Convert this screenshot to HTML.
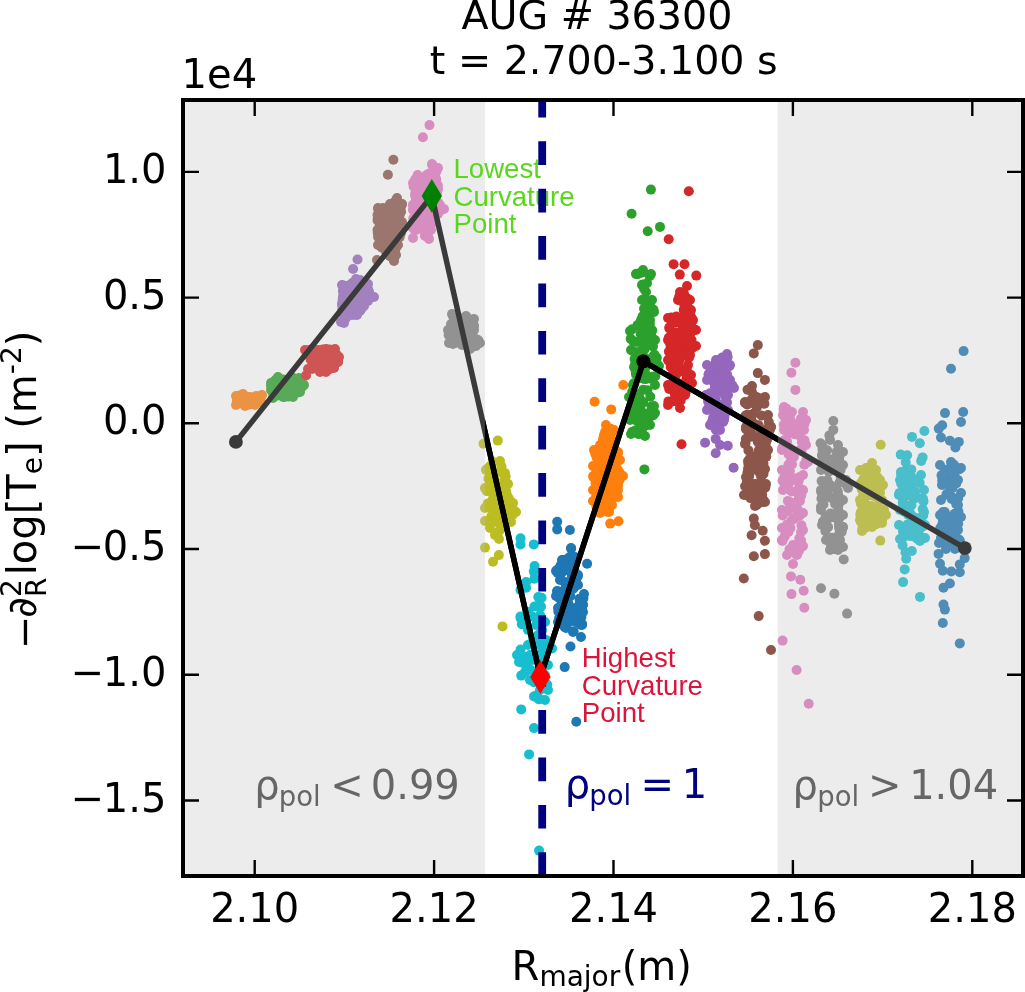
<!DOCTYPE html>
<html><head><meta charset="utf-8"><title>AUG # 36300</title>
<style>html,body{margin:0;padding:0;background:#fff;overflow:hidden}svg{display:block}</style>
</head><body>
<svg width="1025" height="992" viewBox="0 0 1025 992">
<rect x="0" y="0" width="1025" height="992" fill="#fff"/>
<g fill="#ff7f0e"><circle cx="244.4" cy="395.8" r="5.0"/><circle cx="249.9" cy="398.4" r="5.0"/><circle cx="237.5" cy="400.1" r="5.0"/><circle cx="237.0" cy="399.2" r="5.0"/><circle cx="247.0" cy="403.9" r="5.0"/><circle cx="239.2" cy="396.7" r="5.0"/><circle cx="251.0" cy="398.8" r="5.0"/><circle cx="258.3" cy="397.5" r="5.0"/><circle cx="239.8" cy="395.4" r="5.0"/><circle cx="244.0" cy="403.8" r="5.0"/><circle cx="240.7" cy="401.0" r="5.0"/><circle cx="252.6" cy="398.5" r="5.0"/><circle cx="237.5" cy="396.5" r="5.0"/><circle cx="253.7" cy="399.1" r="5.0"/><circle cx="244.2" cy="401.0" r="5.0"/><circle cx="247.8" cy="397.6" r="5.0"/><circle cx="256.7" cy="402.4" r="5.0"/><circle cx="242.3" cy="400.9" r="5.0"/><circle cx="249.7" cy="404.5" r="5.0"/><circle cx="255.0" cy="397.5" r="5.0"/><circle cx="261.5" cy="395.4" r="5.0"/><circle cx="246.9" cy="403.1" r="5.0"/><circle cx="240.0" cy="399.9" r="5.0"/><circle cx="237.0" cy="402.0" r="5.0"/><circle cx="255.9" cy="400.9" r="5.0"/><circle cx="258.8" cy="397.8" r="5.0"/><circle cx="254.1" cy="401.1" r="5.0"/><circle cx="251.1" cy="399.5" r="5.0"/><circle cx="248.3" cy="402.0" r="5.0"/><circle cx="237.6" cy="402.4" r="5.0"/><circle cx="236.0" cy="396.0" r="5.0"/><circle cx="243.0" cy="394.0" r="5.0"/><circle cx="250.0" cy="397.0" r="5.0"/><circle cx="256.0" cy="396.0" r="5.0"/><circle cx="262.0" cy="395.0" r="5.0"/><circle cx="262.0" cy="403.0" r="5.0"/><circle cx="255.0" cy="405.0" r="5.0"/><circle cx="245.0" cy="406.0" r="5.0"/><circle cx="236.0" cy="405.0" r="5.0"/></g>
<g fill="#2ca02c"><circle cx="298.1" cy="383.0" r="5.0"/><circle cx="283.7" cy="391.0" r="5.0"/><circle cx="271.7" cy="386.7" r="5.0"/><circle cx="276.5" cy="379.5" r="5.0"/><circle cx="272.9" cy="393.1" r="5.0"/><circle cx="275.3" cy="382.2" r="5.0"/><circle cx="283.9" cy="395.3" r="5.0"/><circle cx="273.7" cy="386.4" r="5.0"/><circle cx="289.1" cy="395.6" r="5.0"/><circle cx="280.2" cy="385.7" r="5.0"/><circle cx="282.8" cy="395.6" r="5.0"/><circle cx="276.8" cy="381.9" r="5.0"/><circle cx="278.7" cy="387.2" r="5.0"/><circle cx="290.4" cy="382.5" r="5.0"/><circle cx="271.1" cy="385.8" r="5.0"/><circle cx="283.2" cy="388.9" r="5.0"/><circle cx="288.0" cy="390.0" r="5.0"/><circle cx="293.3" cy="378.1" r="5.0"/><circle cx="283.9" cy="385.4" r="5.0"/><circle cx="274.4" cy="390.3" r="5.0"/><circle cx="277.9" cy="380.4" r="5.0"/><circle cx="274.3" cy="384.6" r="5.0"/><circle cx="291.3" cy="380.1" r="5.0"/><circle cx="279.3" cy="384.3" r="5.0"/><circle cx="283.0" cy="379.6" r="5.0"/><circle cx="286.4" cy="387.2" r="5.0"/><circle cx="282.3" cy="382.6" r="5.0"/><circle cx="298.4" cy="380.4" r="5.0"/><circle cx="288.4" cy="380.1" r="5.0"/><circle cx="299.5" cy="391.6" r="5.0"/><circle cx="279.6" cy="384.7" r="5.0"/><circle cx="276.5" cy="393.2" r="5.0"/><circle cx="288.6" cy="393.4" r="5.0"/><circle cx="281.9" cy="381.7" r="5.0"/><circle cx="298.0" cy="392.5" r="5.0"/><circle cx="278.5" cy="387.9" r="5.0"/><circle cx="271.9" cy="382.9" r="5.0"/><circle cx="279.6" cy="391.5" r="5.0"/><circle cx="302.6" cy="386.4" r="5.0"/><circle cx="302.5" cy="384.7" r="5.0"/><circle cx="278.3" cy="381.8" r="5.0"/><circle cx="277.5" cy="381.3" r="5.0"/><circle cx="291.6" cy="395.9" r="5.0"/><circle cx="298.7" cy="387.1" r="5.0"/><circle cx="292.5" cy="393.8" r="5.0"/><circle cx="273.8" cy="390.9" r="5.0"/><circle cx="295.8" cy="387.0" r="5.0"/><circle cx="276.9" cy="393.6" r="5.0"/><circle cx="282.0" cy="393.8" r="5.0"/><circle cx="303.1" cy="385.3" r="5.0"/><circle cx="284.2" cy="396.9" r="5.0"/><circle cx="294.9" cy="380.6" r="5.0"/><circle cx="275.2" cy="380.2" r="5.0"/><circle cx="275.8" cy="394.4" r="5.0"/><circle cx="282.6" cy="388.5" r="5.0"/><circle cx="288.4" cy="396.6" r="5.0"/><circle cx="285.3" cy="395.3" r="5.0"/><circle cx="298.3" cy="381.4" r="5.0"/><circle cx="279.3" cy="383.2" r="5.0"/><circle cx="278.9" cy="389.3" r="5.0"/><circle cx="279.6" cy="385.8" r="5.0"/><circle cx="275.3" cy="396.1" r="5.0"/><circle cx="282.7" cy="386.6" r="5.0"/><circle cx="290.3" cy="396.0" r="5.0"/><circle cx="271.0" cy="383.0" r="5.0"/><circle cx="278.0" cy="377.0" r="5.0"/><circle cx="284.0" cy="380.0" r="5.0"/><circle cx="292.0" cy="378.0" r="5.0"/><circle cx="299.0" cy="378.0" r="5.0"/><circle cx="304.0" cy="385.0" r="5.0"/><circle cx="300.0" cy="392.0" r="5.0"/><circle cx="293.0" cy="397.0" r="5.0"/><circle cx="283.0" cy="397.0" r="5.0"/><circle cx="273.0" cy="398.0" r="5.0"/><circle cx="271.0" cy="390.0" r="5.0"/></g>
<g fill="#d62728"><circle cx="319.3" cy="370.1" r="5.0"/><circle cx="322.1" cy="361.2" r="5.0"/><circle cx="322.8" cy="349.4" r="5.0"/><circle cx="320.0" cy="353.2" r="5.0"/><circle cx="329.7" cy="361.8" r="5.0"/><circle cx="316.1" cy="360.9" r="5.0"/><circle cx="323.9" cy="367.0" r="5.0"/><circle cx="313.4" cy="355.4" r="5.0"/><circle cx="331.3" cy="360.7" r="5.0"/><circle cx="324.1" cy="366.5" r="5.0"/><circle cx="336.0" cy="359.2" r="5.0"/><circle cx="325.8" cy="360.6" r="5.0"/><circle cx="322.4" cy="364.9" r="5.0"/><circle cx="320.4" cy="361.3" r="5.0"/><circle cx="321.3" cy="370.7" r="5.0"/><circle cx="328.8" cy="369.2" r="5.0"/><circle cx="337.0" cy="355.0" r="5.0"/><circle cx="324.0" cy="370.7" r="5.0"/><circle cx="333.6" cy="352.2" r="5.0"/><circle cx="327.4" cy="352.3" r="5.0"/><circle cx="318.5" cy="360.2" r="5.0"/><circle cx="310.5" cy="358.9" r="5.0"/><circle cx="322.5" cy="356.8" r="5.0"/><circle cx="311.7" cy="356.3" r="5.0"/><circle cx="329.6" cy="349.4" r="5.0"/><circle cx="323.8" cy="359.1" r="5.0"/><circle cx="326.2" cy="360.8" r="5.0"/><circle cx="308.6" cy="355.1" r="5.0"/><circle cx="314.2" cy="352.0" r="5.0"/><circle cx="319.4" cy="370.0" r="5.0"/><circle cx="332.8" cy="354.9" r="5.0"/><circle cx="324.4" cy="365.1" r="5.0"/><circle cx="308.0" cy="350.3" r="5.0"/><circle cx="328.4" cy="358.8" r="5.0"/><circle cx="326.6" cy="367.4" r="5.0"/><circle cx="320.4" cy="356.8" r="5.0"/><circle cx="323.8" cy="370.3" r="5.0"/><circle cx="314.1" cy="352.0" r="5.0"/><circle cx="322.9" cy="354.5" r="5.0"/><circle cx="308.7" cy="352.7" r="5.0"/><circle cx="315.6" cy="356.0" r="5.0"/><circle cx="330.8" cy="355.7" r="5.0"/><circle cx="322.0" cy="353.1" r="5.0"/><circle cx="313.5" cy="349.4" r="5.0"/><circle cx="329.9" cy="361.7" r="5.0"/><circle cx="311.4" cy="359.9" r="5.0"/><circle cx="332.8" cy="358.9" r="5.0"/><circle cx="321.8" cy="368.2" r="5.0"/><circle cx="318.4" cy="360.7" r="5.0"/><circle cx="316.7" cy="368.1" r="5.0"/><circle cx="329.0" cy="363.6" r="5.0"/><circle cx="318.8" cy="357.0" r="5.0"/><circle cx="306.8" cy="352.0" r="5.0"/><circle cx="313.7" cy="352.8" r="5.0"/><circle cx="334.6" cy="364.4" r="5.0"/><circle cx="314.6" cy="354.6" r="5.0"/><circle cx="315.0" cy="359.6" r="5.0"/><circle cx="338.1" cy="361.6" r="5.0"/><circle cx="315.5" cy="357.2" r="5.0"/><circle cx="321.1" cy="360.6" r="5.0"/><circle cx="311.8" cy="360.6" r="5.0"/><circle cx="315.3" cy="354.4" r="5.0"/><circle cx="324.9" cy="361.2" r="5.0"/><circle cx="330.5" cy="364.1" r="5.0"/><circle cx="329.3" cy="369.2" r="5.0"/><circle cx="318.2" cy="356.5" r="5.0"/><circle cx="329.6" cy="363.8" r="5.0"/><circle cx="335.3" cy="363.4" r="5.0"/><circle cx="330.0" cy="367.7" r="5.0"/><circle cx="305.0" cy="350.0" r="5.0"/><circle cx="312.0" cy="349.0" r="5.0"/><circle cx="318.0" cy="350.0" r="5.0"/><circle cx="326.0" cy="349.0" r="5.0"/><circle cx="335.0" cy="349.0" r="5.0"/><circle cx="339.0" cy="357.0" r="5.0"/><circle cx="338.0" cy="362.0" r="5.0"/><circle cx="334.0" cy="368.0" r="5.0"/><circle cx="326.0" cy="372.0" r="5.0"/><circle cx="320.0" cy="372.0" r="5.0"/><circle cx="312.0" cy="369.0" r="5.0"/><circle cx="311.0" cy="360.0" r="5.0"/><circle cx="306.1" cy="375.4" r="5.0"/><circle cx="308.0" cy="369.0" r="5.0"/></g>
<g fill="#9467bd"><circle cx="345.6" cy="302.0" r="5.0"/><circle cx="345.4" cy="294.9" r="5.0"/><circle cx="344.5" cy="315.8" r="5.0"/><circle cx="359.4" cy="306.6" r="5.0"/><circle cx="357.6" cy="302.5" r="5.0"/><circle cx="362.8" cy="281.9" r="5.0"/><circle cx="365.3" cy="290.1" r="5.0"/><circle cx="343.5" cy="290.7" r="5.0"/><circle cx="365.1" cy="288.0" r="5.0"/><circle cx="357.3" cy="295.8" r="5.0"/><circle cx="356.8" cy="309.1" r="5.0"/><circle cx="362.2" cy="282.4" r="5.0"/><circle cx="345.9" cy="290.2" r="5.0"/><circle cx="365.5" cy="292.4" r="5.0"/><circle cx="343.0" cy="290.8" r="5.0"/><circle cx="363.3" cy="291.8" r="5.0"/><circle cx="358.0" cy="299.4" r="5.0"/><circle cx="356.4" cy="284.2" r="5.0"/><circle cx="355.8" cy="290.8" r="5.0"/><circle cx="348.0" cy="304.6" r="5.0"/><circle cx="345.7" cy="302.1" r="5.0"/><circle cx="357.0" cy="280.1" r="5.0"/><circle cx="355.9" cy="292.3" r="5.0"/><circle cx="345.6" cy="294.1" r="5.0"/><circle cx="353.3" cy="296.3" r="5.0"/><circle cx="352.9" cy="297.8" r="5.0"/><circle cx="344.4" cy="315.7" r="5.0"/><circle cx="349.2" cy="290.7" r="5.0"/><circle cx="357.9" cy="287.4" r="5.0"/><circle cx="365.2" cy="298.8" r="5.0"/><circle cx="356.6" cy="294.1" r="5.0"/><circle cx="350.8" cy="311.5" r="5.0"/><circle cx="362.6" cy="292.2" r="5.0"/><circle cx="359.4" cy="296.4" r="5.0"/><circle cx="346.5" cy="286.1" r="5.0"/><circle cx="357.4" cy="288.7" r="5.0"/><circle cx="355.8" cy="285.1" r="5.0"/><circle cx="352.3" cy="283.0" r="5.0"/><circle cx="348.9" cy="290.4" r="5.0"/><circle cx="365.7" cy="297.2" r="5.0"/><circle cx="354.7" cy="302.1" r="5.0"/><circle cx="353.4" cy="293.9" r="5.0"/><circle cx="343.0" cy="291.2" r="5.0"/><circle cx="357.6" cy="306.7" r="5.0"/><circle cx="349.9" cy="289.9" r="5.0"/><circle cx="354.2" cy="298.6" r="5.0"/><circle cx="342.1" cy="310.2" r="5.0"/><circle cx="344.6" cy="285.8" r="5.0"/><circle cx="358.2" cy="309.0" r="5.0"/><circle cx="356.1" cy="303.3" r="5.0"/><circle cx="342.3" cy="313.4" r="5.0"/><circle cx="362.3" cy="292.4" r="5.0"/><circle cx="345.2" cy="290.1" r="5.0"/><circle cx="358.3" cy="304.6" r="5.0"/><circle cx="353.8" cy="288.8" r="5.0"/><circle cx="351.0" cy="299.3" r="5.0"/><circle cx="348.7" cy="289.9" r="5.0"/><circle cx="357.4" cy="308.7" r="5.0"/><circle cx="354.9" cy="290.3" r="5.0"/><circle cx="352.2" cy="297.5" r="5.0"/><circle cx="363.5" cy="287.7" r="5.0"/><circle cx="357.7" cy="288.0" r="5.0"/><circle cx="368.1" cy="289.2" r="5.0"/><circle cx="357.4" cy="287.2" r="5.0"/><circle cx="348.4" cy="297.3" r="5.0"/><circle cx="345.8" cy="296.3" r="5.0"/><circle cx="343.0" cy="296.3" r="5.0"/><circle cx="362.9" cy="295.7" r="5.0"/><circle cx="353.3" cy="293.6" r="5.0"/><circle cx="350.2" cy="294.5" r="5.0"/><circle cx="368.1" cy="298.0" r="5.0"/><circle cx="342.6" cy="299.8" r="5.0"/><circle cx="347.4" cy="295.0" r="5.0"/><circle cx="354.6" cy="314.7" r="5.0"/><circle cx="352.2" cy="291.0" r="5.0"/><circle cx="349.7" cy="310.5" r="5.0"/><circle cx="351.4" cy="291.1" r="5.0"/><circle cx="348.7" cy="299.9" r="5.0"/><circle cx="353.8" cy="290.0" r="5.0"/><circle cx="355.2" cy="300.7" r="5.0"/><circle cx="361.0" cy="293.4" r="5.0"/><circle cx="351.5" cy="294.9" r="5.0"/><circle cx="347.5" cy="312.1" r="5.0"/><circle cx="342.1" cy="303.3" r="5.0"/><circle cx="344.2" cy="300.9" r="5.0"/><circle cx="364.4" cy="298.7" r="5.0"/><circle cx="348.7" cy="297.3" r="5.0"/><circle cx="361.5" cy="308.7" r="5.0"/><circle cx="362.9" cy="284.3" r="5.0"/><circle cx="368.7" cy="291.9" r="5.0"/><circle cx="359.7" cy="295.4" r="5.0"/><circle cx="342.0" cy="285.0" r="5.0"/><circle cx="350.0" cy="285.0" r="5.0"/><circle cx="356.0" cy="279.0" r="5.0"/><circle cx="360.0" cy="280.0" r="5.0"/><circle cx="368.0" cy="284.0" r="5.0"/><circle cx="369.0" cy="292.0" r="5.0"/><circle cx="374.0" cy="297.0" r="5.0"/><circle cx="368.0" cy="301.0" r="5.0"/><circle cx="364.0" cy="306.0" r="5.0"/><circle cx="360.0" cy="311.0" r="5.0"/><circle cx="357.0" cy="315.0" r="5.0"/><circle cx="352.0" cy="315.0" r="5.0"/><circle cx="348.0" cy="312.0" r="5.0"/><circle cx="346.0" cy="318.0" r="5.0"/><circle cx="344.0" cy="323.0" r="5.0"/><circle cx="341.0" cy="322.0" r="5.0"/><circle cx="342.0" cy="305.0" r="5.0"/><circle cx="357.5" cy="259.5" r="5.0"/><circle cx="353.1" cy="269.0" r="5.0"/></g>
<g fill="#8c564b"><circle cx="395.6" cy="210.5" r="5.0"/><circle cx="383.6" cy="213.5" r="5.0"/><circle cx="391.7" cy="218.6" r="5.0"/><circle cx="389.9" cy="212.6" r="5.0"/><circle cx="397.3" cy="239.2" r="5.0"/><circle cx="401.8" cy="204.4" r="5.0"/><circle cx="389.1" cy="249.6" r="5.0"/><circle cx="378.5" cy="216.5" r="5.0"/><circle cx="380.4" cy="209.9" r="5.0"/><circle cx="400.3" cy="221.5" r="5.0"/><circle cx="398.7" cy="226.3" r="5.0"/><circle cx="383.9" cy="247.0" r="5.0"/><circle cx="400.7" cy="204.7" r="5.0"/><circle cx="392.1" cy="237.1" r="5.0"/><circle cx="382.8" cy="221.2" r="5.0"/><circle cx="381.0" cy="210.9" r="5.0"/><circle cx="383.7" cy="235.8" r="5.0"/><circle cx="393.5" cy="210.8" r="5.0"/><circle cx="377.8" cy="218.6" r="5.0"/><circle cx="394.1" cy="209.7" r="5.0"/><circle cx="385.1" cy="210.8" r="5.0"/><circle cx="397.0" cy="232.5" r="5.0"/><circle cx="387.2" cy="232.7" r="5.0"/><circle cx="393.2" cy="203.7" r="5.0"/><circle cx="381.5" cy="241.8" r="5.0"/><circle cx="387.5" cy="215.8" r="5.0"/><circle cx="385.2" cy="233.7" r="5.0"/><circle cx="386.3" cy="224.2" r="5.0"/><circle cx="386.4" cy="210.4" r="5.0"/><circle cx="395.3" cy="210.8" r="5.0"/><circle cx="387.9" cy="249.7" r="5.0"/><circle cx="388.8" cy="208.2" r="5.0"/><circle cx="377.9" cy="232.7" r="5.0"/><circle cx="393.2" cy="255.3" r="5.0"/><circle cx="379.7" cy="237.2" r="5.0"/><circle cx="386.6" cy="229.8" r="5.0"/><circle cx="381.1" cy="215.8" r="5.0"/><circle cx="390.3" cy="256.3" r="5.0"/><circle cx="380.2" cy="228.9" r="5.0"/><circle cx="400.2" cy="222.4" r="5.0"/><circle cx="399.7" cy="237.1" r="5.0"/><circle cx="397.7" cy="208.1" r="5.0"/><circle cx="396.8" cy="212.0" r="5.0"/><circle cx="387.4" cy="251.3" r="5.0"/><circle cx="397.8" cy="209.5" r="5.0"/><circle cx="382.8" cy="223.2" r="5.0"/><circle cx="390.2" cy="222.2" r="5.0"/><circle cx="380.5" cy="213.6" r="5.0"/><circle cx="395.3" cy="254.5" r="5.0"/><circle cx="378.5" cy="233.4" r="5.0"/><circle cx="396.1" cy="200.4" r="5.0"/><circle cx="398.0" cy="205.4" r="5.0"/><circle cx="392.2" cy="232.7" r="5.0"/><circle cx="392.9" cy="217.3" r="5.0"/><circle cx="387.8" cy="234.7" r="5.0"/><circle cx="387.9" cy="239.5" r="5.0"/><circle cx="388.4" cy="225.6" r="5.0"/><circle cx="378.1" cy="237.0" r="5.0"/><circle cx="389.5" cy="212.8" r="5.0"/><circle cx="396.2" cy="247.1" r="5.0"/><circle cx="388.7" cy="209.3" r="5.0"/><circle cx="380.6" cy="225.1" r="5.0"/><circle cx="379.7" cy="225.8" r="5.0"/><circle cx="393.1" cy="203.2" r="5.0"/><circle cx="395.5" cy="247.0" r="5.0"/><circle cx="389.8" cy="221.8" r="5.0"/><circle cx="400.8" cy="206.6" r="5.0"/><circle cx="395.4" cy="249.3" r="5.0"/><circle cx="399.9" cy="208.4" r="5.0"/><circle cx="379.1" cy="220.1" r="5.0"/><circle cx="396.0" cy="208.0" r="5.0"/><circle cx="399.5" cy="215.3" r="5.0"/><circle cx="397.5" cy="207.0" r="5.0"/><circle cx="389.8" cy="256.0" r="5.0"/><circle cx="382.6" cy="214.6" r="5.0"/><circle cx="389.9" cy="218.1" r="5.0"/><circle cx="378.4" cy="209.5" r="5.0"/><circle cx="394.2" cy="254.4" r="5.0"/><circle cx="381.6" cy="247.4" r="5.0"/><circle cx="380.3" cy="231.4" r="5.0"/><circle cx="393.1" cy="220.7" r="5.0"/><circle cx="398.9" cy="233.0" r="5.0"/><circle cx="391.7" cy="253.6" r="5.0"/><circle cx="392.9" cy="222.8" r="5.0"/><circle cx="397.0" cy="214.7" r="5.0"/><circle cx="386.3" cy="246.2" r="5.0"/><circle cx="395.7" cy="201.0" r="5.0"/><circle cx="397.6" cy="214.0" r="5.0"/><circle cx="391.9" cy="239.8" r="5.0"/><circle cx="392.6" cy="225.2" r="5.0"/><circle cx="390.1" cy="254.4" r="5.0"/><circle cx="380.7" cy="212.3" r="5.0"/><circle cx="377.6" cy="220.4" r="5.0"/><circle cx="380.1" cy="220.5" r="5.0"/><circle cx="383.0" cy="234.8" r="5.0"/><circle cx="391.9" cy="210.9" r="5.0"/><circle cx="392.8" cy="227.9" r="5.0"/><circle cx="379.8" cy="238.2" r="5.0"/><circle cx="387.3" cy="214.6" r="5.0"/><circle cx="391.3" cy="220.1" r="5.0"/><circle cx="393.3" cy="226.0" r="5.0"/><circle cx="378.6" cy="231.5" r="5.0"/><circle cx="387.4" cy="213.0" r="5.0"/><circle cx="377.8" cy="232.7" r="5.0"/><circle cx="400.6" cy="207.0" r="5.0"/><circle cx="382.4" cy="236.3" r="5.0"/><circle cx="389.9" cy="238.4" r="5.0"/><circle cx="397.4" cy="209.0" r="5.0"/><circle cx="385.1" cy="216.9" r="5.0"/><circle cx="396.7" cy="243.1" r="5.0"/><circle cx="395.8" cy="227.3" r="5.0"/><circle cx="395.7" cy="226.5" r="5.0"/><circle cx="385.7" cy="245.2" r="5.0"/><circle cx="394.5" cy="251.3" r="5.0"/><circle cx="394.9" cy="214.8" r="5.0"/><circle cx="391.1" cy="225.5" r="5.0"/><circle cx="396.8" cy="231.0" r="5.0"/><circle cx="384.0" cy="238.4" r="5.0"/><circle cx="401.1" cy="211.7" r="5.0"/><circle cx="383.9" cy="212.9" r="5.0"/><circle cx="395.8" cy="218.6" r="5.0"/><circle cx="399.1" cy="218.7" r="5.0"/><circle cx="393.0" cy="241.6" r="5.0"/><circle cx="393.8" cy="259.7" r="5.0"/><circle cx="389.0" cy="250.9" r="5.0"/><circle cx="394.6" cy="252.0" r="5.0"/><circle cx="388.2" cy="243.7" r="5.0"/><circle cx="391.5" cy="217.4" r="5.0"/><circle cx="382.7" cy="237.2" r="5.0"/><circle cx="394.5" cy="237.9" r="5.0"/><circle cx="394.6" cy="244.4" r="5.0"/><circle cx="378.0" cy="208.0" r="5.0"/><circle cx="383.0" cy="208.0" r="5.0"/><circle cx="388.0" cy="211.0" r="5.0"/><circle cx="390.0" cy="204.0" r="5.0"/><circle cx="397.0" cy="198.0" r="5.0"/><circle cx="402.0" cy="204.0" r="5.0"/><circle cx="402.0" cy="222.0" r="5.0"/><circle cx="401.0" cy="233.0" r="5.0"/><circle cx="398.0" cy="245.0" r="5.0"/><circle cx="396.0" cy="255.0" r="5.0"/><circle cx="394.0" cy="261.0" r="5.0"/><circle cx="389.0" cy="255.0" r="5.0"/><circle cx="385.0" cy="250.0" r="5.0"/><circle cx="378.0" cy="245.0" r="5.0"/><circle cx="377.5" cy="230.0" r="5.0"/><circle cx="377.5" cy="215.0" r="5.0"/><circle cx="393.4" cy="159.7" r="5.0"/><circle cx="387.9" cy="174.7" r="5.0"/><circle cx="377.0" cy="260.0" r="5.0"/></g>
<g fill="#e377c2"><circle cx="414.1" cy="208.3" r="5.0"/><circle cx="423.6" cy="225.3" r="5.0"/><circle cx="414.1" cy="229.1" r="5.0"/><circle cx="415.4" cy="179.4" r="5.0"/><circle cx="432.2" cy="185.6" r="5.0"/><circle cx="436.2" cy="179.4" r="5.0"/><circle cx="422.2" cy="195.8" r="5.0"/><circle cx="421.0" cy="217.7" r="5.0"/><circle cx="423.8" cy="188.1" r="5.0"/><circle cx="439.2" cy="210.4" r="5.0"/><circle cx="426.0" cy="222.0" r="5.0"/><circle cx="423.1" cy="216.8" r="5.0"/><circle cx="429.2" cy="180.2" r="5.0"/><circle cx="427.7" cy="223.8" r="5.0"/><circle cx="417.9" cy="201.1" r="5.0"/><circle cx="423.1" cy="226.4" r="5.0"/><circle cx="421.1" cy="180.1" r="5.0"/><circle cx="434.4" cy="201.4" r="5.0"/><circle cx="415.5" cy="211.7" r="5.0"/><circle cx="414.6" cy="223.1" r="5.0"/><circle cx="432.1" cy="190.7" r="5.0"/><circle cx="424.8" cy="193.6" r="5.0"/><circle cx="418.6" cy="183.7" r="5.0"/><circle cx="424.1" cy="230.3" r="5.0"/><circle cx="419.5" cy="198.6" r="5.0"/><circle cx="429.0" cy="220.6" r="5.0"/><circle cx="436.1" cy="212.5" r="5.0"/><circle cx="423.2" cy="188.5" r="5.0"/><circle cx="417.0" cy="227.2" r="5.0"/><circle cx="433.2" cy="219.6" r="5.0"/><circle cx="417.4" cy="196.9" r="5.0"/><circle cx="436.7" cy="207.4" r="5.0"/><circle cx="416.0" cy="198.7" r="5.0"/><circle cx="418.1" cy="186.6" r="5.0"/><circle cx="419.9" cy="188.5" r="5.0"/><circle cx="428.7" cy="176.1" r="5.0"/><circle cx="415.3" cy="192.8" r="5.0"/><circle cx="435.5" cy="196.6" r="5.0"/><circle cx="418.3" cy="211.8" r="5.0"/><circle cx="415.4" cy="179.5" r="5.0"/><circle cx="424.8" cy="223.3" r="5.0"/><circle cx="434.2" cy="201.5" r="5.0"/><circle cx="432.2" cy="198.7" r="5.0"/><circle cx="416.5" cy="209.3" r="5.0"/><circle cx="425.0" cy="219.6" r="5.0"/><circle cx="430.4" cy="220.2" r="5.0"/><circle cx="425.5" cy="181.1" r="5.0"/><circle cx="432.5" cy="198.0" r="5.0"/><circle cx="422.0" cy="211.1" r="5.0"/><circle cx="415.1" cy="195.5" r="5.0"/><circle cx="432.1" cy="182.8" r="5.0"/><circle cx="425.6" cy="198.1" r="5.0"/><circle cx="431.9" cy="194.7" r="5.0"/><circle cx="417.9" cy="213.1" r="5.0"/><circle cx="436.9" cy="193.2" r="5.0"/><circle cx="427.7" cy="237.1" r="5.0"/><circle cx="413.2" cy="204.8" r="5.0"/><circle cx="417.1" cy="222.6" r="5.0"/><circle cx="415.2" cy="207.1" r="5.0"/><circle cx="429.3" cy="217.8" r="5.0"/><circle cx="428.4" cy="211.9" r="5.0"/><circle cx="438.5" cy="203.1" r="5.0"/><circle cx="425.1" cy="235.1" r="5.0"/><circle cx="418.7" cy="215.3" r="5.0"/><circle cx="424.6" cy="221.2" r="5.0"/><circle cx="420.8" cy="194.0" r="5.0"/><circle cx="425.5" cy="216.4" r="5.0"/><circle cx="423.3" cy="183.9" r="5.0"/><circle cx="419.2" cy="219.6" r="5.0"/><circle cx="419.0" cy="224.1" r="5.0"/><circle cx="424.5" cy="179.9" r="5.0"/><circle cx="416.1" cy="222.2" r="5.0"/><circle cx="437.9" cy="211.6" r="5.0"/><circle cx="427.0" cy="206.2" r="5.0"/><circle cx="423.3" cy="211.9" r="5.0"/><circle cx="427.0" cy="186.1" r="5.0"/><circle cx="429.5" cy="173.4" r="5.0"/><circle cx="424.0" cy="183.0" r="5.0"/><circle cx="425.6" cy="177.9" r="5.0"/><circle cx="421.0" cy="182.4" r="5.0"/><circle cx="421.7" cy="200.0" r="5.0"/><circle cx="425.7" cy="211.8" r="5.0"/><circle cx="433.1" cy="191.2" r="5.0"/><circle cx="413.8" cy="226.1" r="5.0"/><circle cx="416.5" cy="226.3" r="5.0"/><circle cx="432.3" cy="165.1" r="5.0"/><circle cx="433.0" cy="182.8" r="5.0"/><circle cx="419.5" cy="222.2" r="5.0"/><circle cx="431.5" cy="222.6" r="5.0"/><circle cx="418.3" cy="216.0" r="5.0"/><circle cx="429.0" cy="219.6" r="5.0"/><circle cx="426.0" cy="230.2" r="5.0"/><circle cx="429.8" cy="183.8" r="5.0"/><circle cx="426.9" cy="174.8" r="5.0"/><circle cx="427.7" cy="201.4" r="5.0"/><circle cx="429.3" cy="228.7" r="5.0"/><circle cx="412.2" cy="227.1" r="5.0"/><circle cx="427.0" cy="206.2" r="5.0"/><circle cx="424.0" cy="195.4" r="5.0"/><circle cx="432.4" cy="211.7" r="5.0"/><circle cx="412.9" cy="209.7" r="5.0"/><circle cx="428.3" cy="200.4" r="5.0"/><circle cx="435.0" cy="210.9" r="5.0"/><circle cx="422.8" cy="228.6" r="5.0"/><circle cx="423.7" cy="199.6" r="5.0"/><circle cx="428.8" cy="221.8" r="5.0"/><circle cx="418.7" cy="196.6" r="5.0"/><circle cx="425.5" cy="205.6" r="5.0"/><circle cx="428.1" cy="184.4" r="5.0"/><circle cx="428.2" cy="237.1" r="5.0"/><circle cx="422.6" cy="187.8" r="5.0"/><circle cx="421.6" cy="208.0" r="5.0"/><circle cx="432.3" cy="222.8" r="5.0"/><circle cx="413.3" cy="218.2" r="5.0"/><circle cx="413.6" cy="186.5" r="5.0"/><circle cx="441.5" cy="209.7" r="5.0"/><circle cx="441.1" cy="209.9" r="5.0"/><circle cx="431.7" cy="211.0" r="5.0"/><circle cx="434.3" cy="208.7" r="5.0"/><circle cx="433.8" cy="179.9" r="5.0"/><circle cx="433.3" cy="198.3" r="5.0"/><circle cx="436.4" cy="171.6" r="5.0"/><circle cx="433.0" cy="191.7" r="5.0"/><circle cx="430.0" cy="183.4" r="5.0"/><circle cx="421.7" cy="195.6" r="5.0"/><circle cx="422.2" cy="196.3" r="5.0"/><circle cx="413.7" cy="206.6" r="5.0"/><circle cx="437.9" cy="207.1" r="5.0"/><circle cx="432.6" cy="179.9" r="5.0"/><circle cx="414.8" cy="229.2" r="5.0"/><circle cx="435.0" cy="182.2" r="5.0"/><circle cx="435.5" cy="178.1" r="5.0"/><circle cx="413.6" cy="222.1" r="5.0"/><circle cx="435.4" cy="170.3" r="5.0"/><circle cx="432.1" cy="217.2" r="5.0"/><circle cx="426.7" cy="233.9" r="5.0"/><circle cx="422.0" cy="218.7" r="5.0"/><circle cx="417.3" cy="228.6" r="5.0"/><circle cx="423.8" cy="207.1" r="5.0"/><circle cx="426.0" cy="214.8" r="5.0"/><circle cx="416.6" cy="223.8" r="5.0"/><circle cx="423.6" cy="212.4" r="5.0"/><circle cx="432.2" cy="195.3" r="5.0"/><circle cx="424.3" cy="223.0" r="5.0"/><circle cx="430.1" cy="185.9" r="5.0"/><circle cx="422.6" cy="209.4" r="5.0"/><circle cx="431.2" cy="187.1" r="5.0"/><circle cx="425.7" cy="230.6" r="5.0"/><circle cx="424.1" cy="215.4" r="5.0"/><circle cx="437.8" cy="185.2" r="5.0"/><circle cx="425.5" cy="208.0" r="5.0"/><circle cx="413.4" cy="226.5" r="5.0"/><circle cx="430.3" cy="184.5" r="5.0"/><circle cx="429.7" cy="223.8" r="5.0"/><circle cx="418.4" cy="220.3" r="5.0"/><circle cx="431.4" cy="214.8" r="5.0"/><circle cx="426.9" cy="179.5" r="5.0"/><circle cx="413.0" cy="183.0" r="5.0"/><circle cx="417.6" cy="175.0" r="5.0"/><circle cx="422.0" cy="181.0" r="5.0"/><circle cx="426.0" cy="176.0" r="5.0"/><circle cx="432.0" cy="164.0" r="5.0"/><circle cx="438.0" cy="168.0" r="5.0"/><circle cx="438.0" cy="189.0" r="5.0"/><circle cx="436.0" cy="197.0" r="5.0"/><circle cx="440.0" cy="205.0" r="5.0"/><circle cx="444.0" cy="209.0" r="5.0"/><circle cx="438.0" cy="214.0" r="5.0"/><circle cx="433.0" cy="220.0" r="5.0"/><circle cx="431.0" cy="230.0" r="5.0"/><circle cx="429.0" cy="239.0" r="5.0"/><circle cx="425.0" cy="236.0" r="5.0"/><circle cx="420.0" cy="226.0" r="5.0"/><circle cx="416.0" cy="230.0" r="5.0"/><circle cx="413.0" cy="238.0" r="5.0"/><circle cx="412.0" cy="225.0" r="5.0"/><circle cx="413.0" cy="205.0" r="5.0"/><circle cx="429.5" cy="125.1" r="5.0"/><circle cx="422.9" cy="137.3" r="5.0"/></g>
<g fill="#7f7f7f"><circle cx="456.2" cy="340.3" r="5.0"/><circle cx="473.3" cy="330.1" r="5.0"/><circle cx="450.8" cy="342.2" r="5.0"/><circle cx="472.7" cy="322.2" r="5.0"/><circle cx="466.5" cy="345.4" r="5.0"/><circle cx="463.3" cy="334.6" r="5.0"/><circle cx="454.1" cy="320.7" r="5.0"/><circle cx="453.8" cy="338.5" r="5.0"/><circle cx="459.6" cy="333.8" r="5.0"/><circle cx="460.9" cy="332.1" r="5.0"/><circle cx="452.8" cy="315.6" r="5.0"/><circle cx="451.4" cy="336.1" r="5.0"/><circle cx="473.2" cy="319.5" r="5.0"/><circle cx="467.1" cy="326.1" r="5.0"/><circle cx="466.1" cy="323.2" r="5.0"/><circle cx="472.9" cy="328.9" r="5.0"/><circle cx="478.3" cy="340.9" r="5.0"/><circle cx="454.4" cy="320.3" r="5.0"/><circle cx="465.8" cy="344.5" r="5.0"/><circle cx="467.1" cy="327.9" r="5.0"/><circle cx="456.2" cy="333.8" r="5.0"/><circle cx="468.5" cy="347.5" r="5.0"/><circle cx="469.4" cy="327.8" r="5.0"/><circle cx="462.3" cy="319.6" r="5.0"/><circle cx="456.2" cy="326.3" r="5.0"/><circle cx="473.2" cy="338.8" r="5.0"/><circle cx="472.2" cy="346.9" r="5.0"/><circle cx="469.7" cy="324.5" r="5.0"/><circle cx="466.9" cy="340.5" r="5.0"/><circle cx="451.4" cy="325.3" r="5.0"/><circle cx="456.2" cy="318.3" r="5.0"/><circle cx="463.4" cy="319.9" r="5.0"/><circle cx="455.6" cy="319.0" r="5.0"/><circle cx="471.0" cy="320.8" r="5.0"/><circle cx="475.7" cy="345.1" r="5.0"/><circle cx="452.5" cy="329.7" r="5.0"/><circle cx="462.5" cy="325.9" r="5.0"/><circle cx="468.1" cy="319.0" r="5.0"/><circle cx="455.1" cy="316.0" r="5.0"/><circle cx="470.8" cy="333.4" r="5.0"/><circle cx="456.5" cy="328.4" r="5.0"/><circle cx="453.0" cy="323.5" r="5.0"/><circle cx="453.4" cy="331.2" r="5.0"/><circle cx="469.4" cy="321.4" r="5.0"/><circle cx="463.3" cy="324.0" r="5.0"/><circle cx="456.2" cy="321.1" r="5.0"/><circle cx="451.1" cy="324.1" r="5.0"/><circle cx="471.2" cy="324.3" r="5.0"/><circle cx="473.8" cy="325.9" r="5.0"/><circle cx="453.9" cy="329.2" r="5.0"/><circle cx="466.3" cy="318.8" r="5.0"/><circle cx="453.8" cy="341.0" r="5.0"/><circle cx="470.8" cy="320.9" r="5.0"/><circle cx="467.5" cy="331.3" r="5.0"/><circle cx="456.8" cy="321.2" r="5.0"/><circle cx="467.6" cy="338.8" r="5.0"/><circle cx="454.5" cy="316.3" r="5.0"/><circle cx="471.4" cy="328.3" r="5.0"/><circle cx="473.9" cy="325.7" r="5.0"/><circle cx="474.9" cy="344.3" r="5.0"/><circle cx="454.0" cy="343.1" r="5.0"/><circle cx="459.7" cy="319.7" r="5.0"/><circle cx="459.9" cy="334.8" r="5.0"/><circle cx="462.3" cy="332.0" r="5.0"/><circle cx="451.9" cy="339.0" r="5.0"/><circle cx="474.1" cy="344.3" r="5.0"/><circle cx="458.3" cy="338.9" r="5.0"/><circle cx="460.2" cy="340.3" r="5.0"/><circle cx="464.4" cy="332.6" r="5.0"/><circle cx="453.8" cy="317.6" r="5.0"/><circle cx="456.0" cy="342.6" r="5.0"/><circle cx="470.4" cy="320.8" r="5.0"/><circle cx="448.6" cy="335.0" r="5.0"/><circle cx="466.4" cy="332.3" r="5.0"/><circle cx="475.8" cy="339.1" r="5.0"/><circle cx="463.8" cy="331.5" r="5.0"/><circle cx="456.9" cy="318.3" r="5.0"/><circle cx="461.0" cy="318.8" r="5.0"/><circle cx="466.9" cy="344.1" r="5.0"/><circle cx="452.7" cy="334.0" r="5.0"/><circle cx="471.9" cy="319.8" r="5.0"/><circle cx="460.4" cy="328.7" r="5.0"/><circle cx="472.9" cy="325.8" r="5.0"/><circle cx="455.7" cy="325.7" r="5.0"/><circle cx="473.7" cy="345.9" r="5.0"/><circle cx="474.1" cy="343.7" r="5.0"/><circle cx="449.7" cy="332.1" r="5.0"/><circle cx="456.0" cy="328.8" r="5.0"/><circle cx="452.0" cy="314.0" r="5.0"/><circle cx="459.0" cy="318.0" r="5.0"/><circle cx="466.0" cy="316.0" r="5.0"/><circle cx="474.0" cy="319.0" r="5.0"/><circle cx="474.0" cy="330.0" r="5.0"/><circle cx="470.0" cy="336.0" r="5.0"/><circle cx="478.0" cy="340.0" r="5.0"/><circle cx="480.0" cy="343.0" r="5.0"/><circle cx="476.0" cy="346.0" r="5.0"/><circle cx="470.0" cy="349.0" r="5.0"/><circle cx="462.0" cy="345.0" r="5.0"/><circle cx="453.0" cy="344.0" r="5.0"/><circle cx="449.0" cy="343.0" r="5.0"/><circle cx="448.0" cy="330.0" r="5.0"/></g>
<g fill="#bcbd22"><circle cx="504.6" cy="489.4" r="5.0"/><circle cx="501.5" cy="466.4" r="5.0"/><circle cx="498.4" cy="500.4" r="5.0"/><circle cx="514.0" cy="510.4" r="5.0"/><circle cx="504.9" cy="481.7" r="5.0"/><circle cx="506.0" cy="482.3" r="5.0"/><circle cx="504.3" cy="480.5" r="5.0"/><circle cx="501.1" cy="494.8" r="5.0"/><circle cx="494.5" cy="511.5" r="5.0"/><circle cx="488.7" cy="507.4" r="5.0"/><circle cx="493.3" cy="497.4" r="5.0"/><circle cx="501.5" cy="472.6" r="5.0"/><circle cx="488.8" cy="471.2" r="5.0"/><circle cx="494.1" cy="492.7" r="5.0"/><circle cx="493.9" cy="480.0" r="5.0"/><circle cx="487.7" cy="503.6" r="5.0"/><circle cx="511.0" cy="508.6" r="5.0"/><circle cx="502.7" cy="511.7" r="5.0"/><circle cx="491.2" cy="516.4" r="5.0"/><circle cx="499.3" cy="503.7" r="5.0"/><circle cx="504.0" cy="497.6" r="5.0"/><circle cx="494.6" cy="479.9" r="5.0"/><circle cx="491.9" cy="501.0" r="5.0"/><circle cx="496.9" cy="506.7" r="5.0"/><circle cx="485.4" cy="488.5" r="5.0"/><circle cx="502.3" cy="499.3" r="5.0"/><circle cx="494.2" cy="521.2" r="5.0"/><circle cx="489.9" cy="466.2" r="5.0"/><circle cx="486.9" cy="491.3" r="5.0"/><circle cx="498.6" cy="518.4" r="5.0"/><circle cx="488.4" cy="478.6" r="5.0"/><circle cx="489.8" cy="487.3" r="5.0"/><circle cx="495.9" cy="513.7" r="5.0"/><circle cx="510.5" cy="501.4" r="5.0"/><circle cx="507.9" cy="519.0" r="5.0"/><circle cx="508.6" cy="498.1" r="5.0"/><circle cx="509.3" cy="516.3" r="5.0"/><circle cx="508.7" cy="506.7" r="5.0"/><circle cx="502.7" cy="493.6" r="5.0"/><circle cx="503.8" cy="490.6" r="5.0"/><circle cx="499.0" cy="496.7" r="5.0"/><circle cx="507.4" cy="483.8" r="5.0"/><circle cx="497.1" cy="504.3" r="5.0"/><circle cx="496.9" cy="486.1" r="5.0"/><circle cx="500.5" cy="495.6" r="5.0"/><circle cx="490.7" cy="484.7" r="5.0"/><circle cx="489.5" cy="505.9" r="5.0"/><circle cx="498.2" cy="532.0" r="5.0"/><circle cx="502.5" cy="499.8" r="5.0"/><circle cx="501.0" cy="501.3" r="5.0"/><circle cx="506.2" cy="491.4" r="5.0"/><circle cx="496.1" cy="507.4" r="5.0"/><circle cx="495.9" cy="534.9" r="5.0"/><circle cx="506.0" cy="502.0" r="5.0"/><circle cx="488.1" cy="490.2" r="5.0"/><circle cx="497.4" cy="504.8" r="5.0"/><circle cx="498.6" cy="509.7" r="5.0"/><circle cx="501.4" cy="524.6" r="5.0"/><circle cx="490.3" cy="485.8" r="5.0"/><circle cx="500.9" cy="469.6" r="5.0"/><circle cx="512.7" cy="514.8" r="5.0"/><circle cx="489.8" cy="483.6" r="5.0"/><circle cx="500.9" cy="500.4" r="5.0"/><circle cx="490.8" cy="475.2" r="5.0"/><circle cx="504.5" cy="508.0" r="5.0"/><circle cx="497.8" cy="522.4" r="5.0"/><circle cx="494.5" cy="514.9" r="5.0"/><circle cx="511.1" cy="506.7" r="5.0"/><circle cx="505.7" cy="476.3" r="5.0"/><circle cx="500.4" cy="504.2" r="5.0"/><circle cx="487.0" cy="469.0" r="5.0"/><circle cx="493.0" cy="462.0" r="5.0"/><circle cx="500.0" cy="461.0" r="5.0"/><circle cx="505.0" cy="473.0" r="5.0"/><circle cx="508.0" cy="484.0" r="5.0"/><circle cx="507.0" cy="495.0" r="5.0"/><circle cx="513.0" cy="503.0" r="5.0"/><circle cx="516.0" cy="512.0" r="5.0"/><circle cx="511.0" cy="522.0" r="5.0"/><circle cx="500.0" cy="530.0" r="5.0"/><circle cx="499.0" cy="539.0" r="5.0"/><circle cx="495.0" cy="535.0" r="5.0"/><circle cx="490.0" cy="528.0" r="5.0"/><circle cx="485.0" cy="521.0" r="5.0"/><circle cx="485.0" cy="508.0" r="5.0"/><circle cx="485.0" cy="488.0" r="5.0"/><circle cx="486.0" cy="470.0" r="5.0"/><circle cx="497.8" cy="440.6" r="5.0"/><circle cx="483.5" cy="443.8" r="5.0"/><circle cx="485.0" cy="547.6" r="5.0"/><circle cx="498.9" cy="555.1" r="5.0"/><circle cx="493.0" cy="561.7" r="5.0"/><circle cx="502.5" cy="626.4" r="5.0"/></g>
<g fill="#17becf"><circle cx="520.5" cy="538.3" r="5.0"/><circle cx="520.5" cy="544.4" r="5.0"/><circle cx="533.8" cy="544.4" r="5.0"/><circle cx="534.6" cy="566.0" r="5.0"/><circle cx="533.8" cy="571.6" r="5.0"/><circle cx="534.4" cy="578.8" r="5.0"/><circle cx="526.1" cy="582.1" r="5.0"/><circle cx="520.5" cy="589.9" r="5.0"/><circle cx="526.1" cy="587.7" r="5.0"/><circle cx="538.3" cy="597.1" r="5.0"/><circle cx="541.6" cy="597.7" r="5.0"/><circle cx="534.4" cy="606.6" r="5.0"/><circle cx="541.0" cy="606.6" r="5.0"/><circle cx="520.5" cy="616.5" r="5.0"/><circle cx="532.2" cy="616.5" r="5.0"/><circle cx="537.5" cy="606.0" r="5.0"/><circle cx="520.6" cy="618.1" r="5.0"/><circle cx="521.8" cy="624.2" r="5.0"/><circle cx="552.0" cy="648.4" r="5.0"/><circle cx="520.6" cy="649.6" r="5.0"/><circle cx="524.2" cy="656.8" r="5.0"/><circle cx="523.0" cy="662.9" r="5.0"/><circle cx="526.6" cy="666.5" r="5.0"/><circle cx="521.2" cy="675.6" r="5.0"/><circle cx="533.9" cy="682.2" r="5.0"/><circle cx="547.2" cy="684.6" r="5.0"/><circle cx="536.3" cy="695.5" r="5.0"/><circle cx="538.7" cy="699.2" r="5.0"/><circle cx="521.2" cy="709.4" r="5.0"/><circle cx="534.0" cy="696.4" r="5.0"/><circle cx="539.5" cy="699.0" r="5.0"/><circle cx="534.0" cy="728.1" r="5.0"/><circle cx="529.1" cy="754.4" r="5.0"/><circle cx="539.1" cy="850.6" r="5.0"/><circle cx="528.0" cy="612.0" r="5.0"/><circle cx="536.0" cy="625.0" r="5.0"/><circle cx="542.0" cy="630.0" r="5.0"/><circle cx="546.0" cy="640.0" r="5.0"/><circle cx="540.0" cy="645.0" r="5.0"/><circle cx="533.0" cy="640.0" r="5.0"/><circle cx="544.0" cy="655.0" r="5.0"/><circle cx="538.0" cy="660.0" r="5.0"/><circle cx="548.0" cy="665.0" r="5.0"/><circle cx="531.0" cy="670.0" r="5.0"/><circle cx="545.0" cy="675.0" r="5.0"/><circle cx="537.0" cy="672.0" r="5.0"/><circle cx="548.0" cy="690.0" r="5.0"/><circle cx="528.0" cy="630.0" r="5.0"/><circle cx="530.0" cy="655.0" r="5.0"/><circle cx="540.0" cy="615.0" r="5.0"/><circle cx="545.0" cy="622.0" r="5.0"/><circle cx="538.0" cy="635.0" r="5.0"/><circle cx="546.0" cy="648.0" r="5.0"/><circle cx="542.0" cy="652.0" r="5.0"/><circle cx="528.0" cy="645.0" r="5.0"/><circle cx="532.0" cy="660.0" r="5.0"/><circle cx="517.0" cy="655.0" r="5.0"/><circle cx="525.0" cy="672.0" r="5.0"/><circle cx="530.0" cy="680.0" r="5.0"/><circle cx="540.0" cy="690.0" r="5.0"/><circle cx="545.0" cy="700.0" r="5.0"/><circle cx="536.0" cy="618.0" r="5.0"/><circle cx="543.0" cy="640.0" r="5.0"/><circle cx="519.0" cy="662.0" r="5.0"/></g>
<g fill="#1f77b4"><circle cx="563.4" cy="605.6" r="5.0"/><circle cx="572.1" cy="584.6" r="5.0"/><circle cx="570.6" cy="621.3" r="5.0"/><circle cx="573.2" cy="619.8" r="5.0"/><circle cx="577.6" cy="576.7" r="5.0"/><circle cx="576.0" cy="579.5" r="5.0"/><circle cx="560.7" cy="571.7" r="5.0"/><circle cx="572.3" cy="579.1" r="5.0"/><circle cx="568.6" cy="582.3" r="5.0"/><circle cx="568.3" cy="603.2" r="5.0"/><circle cx="582.1" cy="624.1" r="5.0"/><circle cx="564.7" cy="625.9" r="5.0"/><circle cx="569.6" cy="618.6" r="5.0"/><circle cx="562.8" cy="563.4" r="5.0"/><circle cx="566.0" cy="564.6" r="5.0"/><circle cx="571.7" cy="558.2" r="5.0"/><circle cx="570.9" cy="582.3" r="5.0"/><circle cx="559.5" cy="621.5" r="5.0"/><circle cx="565.8" cy="569.8" r="5.0"/><circle cx="561.4" cy="573.2" r="5.0"/><circle cx="574.6" cy="578.4" r="5.0"/><circle cx="560.4" cy="610.8" r="5.0"/><circle cx="558.6" cy="572.0" r="5.0"/><circle cx="568.4" cy="622.4" r="5.0"/><circle cx="565.9" cy="612.3" r="5.0"/><circle cx="570.1" cy="568.2" r="5.0"/><circle cx="568.7" cy="559.7" r="5.0"/><circle cx="581.2" cy="600.3" r="5.0"/><circle cx="566.3" cy="569.9" r="5.0"/><circle cx="573.0" cy="566.9" r="5.0"/><circle cx="570.4" cy="596.3" r="5.0"/><circle cx="563.6" cy="616.7" r="5.0"/><circle cx="566.8" cy="606.5" r="5.0"/><circle cx="571.9" cy="575.7" r="5.0"/><circle cx="561.0" cy="623.7" r="5.0"/><circle cx="565.0" cy="607.0" r="5.0"/><circle cx="559.1" cy="598.0" r="5.0"/><circle cx="566.1" cy="592.5" r="5.0"/><circle cx="564.7" cy="568.2" r="5.0"/><circle cx="559.5" cy="611.8" r="5.0"/><circle cx="581.4" cy="617.0" r="5.0"/><circle cx="580.7" cy="624.7" r="5.0"/><circle cx="559.7" cy="572.6" r="5.0"/><circle cx="574.6" cy="579.3" r="5.0"/><circle cx="567.6" cy="606.7" r="5.0"/><circle cx="576.6" cy="611.4" r="5.0"/><circle cx="560.5" cy="565.6" r="5.0"/><circle cx="564.5" cy="581.9" r="5.0"/><circle cx="579.5" cy="598.7" r="5.0"/><circle cx="568.2" cy="608.9" r="5.0"/><circle cx="579.4" cy="617.1" r="5.0"/><circle cx="579.9" cy="602.1" r="5.0"/><circle cx="557.3" cy="569.8" r="5.0"/><circle cx="559.1" cy="618.4" r="5.0"/><circle cx="575.5" cy="583.0" r="5.0"/><circle cx="576.9" cy="621.8" r="5.0"/><circle cx="582.0" cy="609.6" r="5.0"/><circle cx="576.7" cy="621.9" r="5.0"/><circle cx="573.6" cy="588.3" r="5.0"/><circle cx="568.0" cy="593.6" r="5.0"/><circle cx="575.7" cy="619.7" r="5.0"/><circle cx="563.3" cy="596.6" r="5.0"/><circle cx="583.1" cy="604.7" r="5.0"/><circle cx="571.2" cy="570.2" r="5.0"/><circle cx="567.5" cy="565.9" r="5.0"/><circle cx="564.7" cy="560.2" r="5.0"/><circle cx="575.8" cy="607.7" r="5.0"/><circle cx="562.7" cy="569.5" r="5.0"/><circle cx="570.4" cy="587.6" r="5.0"/><circle cx="564.4" cy="626.7" r="5.0"/><circle cx="560.0" cy="598.1" r="5.0"/><circle cx="565.3" cy="620.6" r="5.0"/><circle cx="571.4" cy="615.7" r="5.0"/><circle cx="560.7" cy="607.3" r="5.0"/><circle cx="572.8" cy="589.0" r="5.0"/><circle cx="577.5" cy="622.0" r="5.0"/><circle cx="559.2" cy="573.8" r="5.0"/><circle cx="566.1" cy="566.4" r="5.0"/><circle cx="557.7" cy="573.0" r="5.0"/><circle cx="561.5" cy="610.4" r="5.0"/><circle cx="568.5" cy="558.1" r="5.0"/><circle cx="565.1" cy="589.7" r="5.0"/><circle cx="566.2" cy="563.0" r="5.0"/><circle cx="558.4" cy="611.8" r="5.0"/><circle cx="583.4" cy="598.2" r="5.0"/><circle cx="559.0" cy="591.5" r="5.0"/><circle cx="568.2" cy="564.9" r="5.0"/><circle cx="571.2" cy="548.7" r="5.0"/><circle cx="581.7" cy="605.4" r="5.0"/><circle cx="573.6" cy="631.2" r="5.0"/><circle cx="574.3" cy="570.4" r="5.0"/><circle cx="562.9" cy="560.3" r="5.0"/><circle cx="561.2" cy="604.8" r="5.0"/><circle cx="571.0" cy="548.0" r="5.0"/><circle cx="571.0" cy="556.0" r="5.0"/><circle cx="562.0" cy="560.0" r="5.0"/><circle cx="556.0" cy="571.0" r="5.0"/><circle cx="560.0" cy="580.0" r="5.0"/><circle cx="566.0" cy="585.0" r="5.0"/><circle cx="557.0" cy="591.0" r="5.0"/><circle cx="556.0" cy="596.0" r="5.0"/><circle cx="558.0" cy="608.0" r="5.0"/><circle cx="558.0" cy="622.0" r="5.0"/><circle cx="566.0" cy="628.0" r="5.0"/><circle cx="573.0" cy="632.0" r="5.0"/><circle cx="581.0" cy="637.0" r="5.0"/><circle cx="582.0" cy="625.0" r="5.0"/><circle cx="583.0" cy="612.0" r="5.0"/><circle cx="584.0" cy="594.0" r="5.0"/><circle cx="578.0" cy="585.0" r="5.0"/><circle cx="578.0" cy="575.0" r="5.0"/><circle cx="572.0" cy="565.0" r="5.0"/><circle cx="575.0" cy="557.0" r="5.0"/><circle cx="557.2" cy="521.7" r="5.0"/><circle cx="557.2" cy="529.4" r="5.0"/><circle cx="569.9" cy="530.0" r="5.0"/><circle cx="587.1" cy="563.8" r="5.0"/><circle cx="570.5" cy="646.5" r="5.0"/><circle cx="564.7" cy="667.1" r="5.0"/><circle cx="576.3" cy="721.8" r="5.0"/></g>
<g fill="#ff7f0e"><circle cx="598.1" cy="494.0" r="5.0"/><circle cx="617.9" cy="490.3" r="5.0"/><circle cx="602.8" cy="441.2" r="5.0"/><circle cx="617.8" cy="453.2" r="5.0"/><circle cx="604.1" cy="473.5" r="5.0"/><circle cx="604.1" cy="498.2" r="5.0"/><circle cx="610.0" cy="480.3" r="5.0"/><circle cx="617.6" cy="487.1" r="5.0"/><circle cx="607.8" cy="469.0" r="5.0"/><circle cx="597.7" cy="451.4" r="5.0"/><circle cx="610.4" cy="432.1" r="5.0"/><circle cx="606.3" cy="510.3" r="5.0"/><circle cx="606.2" cy="441.8" r="5.0"/><circle cx="616.6" cy="462.4" r="5.0"/><circle cx="601.5" cy="483.2" r="5.0"/><circle cx="608.4" cy="462.1" r="5.0"/><circle cx="603.2" cy="463.6" r="5.0"/><circle cx="613.0" cy="497.7" r="5.0"/><circle cx="601.9" cy="464.0" r="5.0"/><circle cx="609.9" cy="455.6" r="5.0"/><circle cx="602.7" cy="465.5" r="5.0"/><circle cx="613.3" cy="478.6" r="5.0"/><circle cx="601.9" cy="475.3" r="5.0"/><circle cx="612.4" cy="451.3" r="5.0"/><circle cx="603.3" cy="502.9" r="5.0"/><circle cx="613.4" cy="464.4" r="5.0"/><circle cx="595.6" cy="483.1" r="5.0"/><circle cx="604.2" cy="476.1" r="5.0"/><circle cx="605.5" cy="471.6" r="5.0"/><circle cx="609.9" cy="459.9" r="5.0"/><circle cx="619.7" cy="473.2" r="5.0"/><circle cx="596.4" cy="500.9" r="5.0"/><circle cx="608.9" cy="447.1" r="5.0"/><circle cx="607.7" cy="473.8" r="5.0"/><circle cx="599.8" cy="475.4" r="5.0"/><circle cx="596.4" cy="470.2" r="5.0"/><circle cx="610.7" cy="432.1" r="5.0"/><circle cx="605.2" cy="431.5" r="5.0"/><circle cx="606.2" cy="501.0" r="5.0"/><circle cx="609.5" cy="487.9" r="5.0"/><circle cx="596.1" cy="498.1" r="5.0"/><circle cx="604.8" cy="440.1" r="5.0"/><circle cx="600.1" cy="457.8" r="5.0"/><circle cx="593.5" cy="477.3" r="5.0"/><circle cx="599.4" cy="451.4" r="5.0"/><circle cx="614.2" cy="462.5" r="5.0"/><circle cx="619.7" cy="479.7" r="5.0"/><circle cx="619.2" cy="474.5" r="5.0"/><circle cx="598.0" cy="490.6" r="5.0"/><circle cx="603.2" cy="492.2" r="5.0"/><circle cx="613.4" cy="497.7" r="5.0"/><circle cx="596.7" cy="457.8" r="5.0"/><circle cx="611.1" cy="433.8" r="5.0"/><circle cx="609.5" cy="495.7" r="5.0"/><circle cx="596.4" cy="506.4" r="5.0"/><circle cx="613.3" cy="447.4" r="5.0"/><circle cx="598.8" cy="464.3" r="5.0"/><circle cx="618.1" cy="476.2" r="5.0"/><circle cx="596.3" cy="495.5" r="5.0"/><circle cx="598.6" cy="473.8" r="5.0"/><circle cx="601.7" cy="485.5" r="5.0"/><circle cx="604.4" cy="437.7" r="5.0"/><circle cx="619.3" cy="472.4" r="5.0"/><circle cx="613.7" cy="496.1" r="5.0"/><circle cx="603.3" cy="438.3" r="5.0"/><circle cx="608.1" cy="501.8" r="5.0"/><circle cx="598.5" cy="497.0" r="5.0"/><circle cx="613.4" cy="459.5" r="5.0"/><circle cx="607.3" cy="438.9" r="5.0"/><circle cx="618.4" cy="459.6" r="5.0"/><circle cx="619.2" cy="478.8" r="5.0"/><circle cx="595.3" cy="454.0" r="5.0"/><circle cx="599.5" cy="503.7" r="5.0"/><circle cx="610.7" cy="428.8" r="5.0"/><circle cx="598.1" cy="456.8" r="5.0"/><circle cx="607.0" cy="475.8" r="5.0"/><circle cx="604.6" cy="456.1" r="5.0"/><circle cx="593.2" cy="476.0" r="5.0"/><circle cx="606.8" cy="511.8" r="5.0"/><circle cx="613.1" cy="449.0" r="5.0"/><circle cx="601.2" cy="469.0" r="5.0"/><circle cx="600.9" cy="475.1" r="5.0"/><circle cx="608.8" cy="509.2" r="5.0"/><circle cx="609.8" cy="492.8" r="5.0"/><circle cx="612.0" cy="480.8" r="5.0"/><circle cx="603.9" cy="449.8" r="5.0"/><circle cx="602.1" cy="492.2" r="5.0"/><circle cx="615.2" cy="469.8" r="5.0"/><circle cx="606.0" cy="425.0" r="5.0"/><circle cx="614.0" cy="430.0" r="5.0"/><circle cx="612.0" cy="440.0" r="5.0"/><circle cx="618.0" cy="452.0" r="5.0"/><circle cx="620.0" cy="460.0" r="5.0"/><circle cx="618.0" cy="470.0" r="5.0"/><circle cx="623.0" cy="476.0" r="5.0"/><circle cx="618.0" cy="485.0" r="5.0"/><circle cx="618.0" cy="497.0" r="5.0"/><circle cx="612.0" cy="505.0" r="5.0"/><circle cx="609.0" cy="512.0" r="5.0"/><circle cx="600.0" cy="513.0" r="5.0"/><circle cx="593.0" cy="501.0" r="5.0"/><circle cx="593.0" cy="490.0" r="5.0"/><circle cx="593.0" cy="466.0" r="5.0"/><circle cx="594.0" cy="450.0" r="5.0"/><circle cx="600.0" cy="445.0" r="5.0"/><circle cx="604.0" cy="435.0" r="5.0"/><circle cx="623.3" cy="385.0" r="5.0"/><circle cx="594.6" cy="401.8" r="5.0"/><circle cx="611.2" cy="409.4" r="5.0"/><circle cx="610.2" cy="523.6" r="5.0"/><circle cx="618.5" cy="521.3" r="5.0"/></g>
<g fill="#2ca02c"><circle cx="648.1" cy="328.2" r="5.0"/><circle cx="645.5" cy="337.4" r="5.0"/><circle cx="638.7" cy="434.1" r="5.0"/><circle cx="643.4" cy="331.0" r="5.0"/><circle cx="642.6" cy="344.0" r="5.0"/><circle cx="646.1" cy="320.2" r="5.0"/><circle cx="650.8" cy="361.5" r="5.0"/><circle cx="656.6" cy="366.8" r="5.0"/><circle cx="639.7" cy="398.6" r="5.0"/><circle cx="641.8" cy="414.1" r="5.0"/><circle cx="636.7" cy="273.8" r="5.0"/><circle cx="650.1" cy="306.2" r="5.0"/><circle cx="647.1" cy="413.4" r="5.0"/><circle cx="648.4" cy="302.7" r="5.0"/><circle cx="647.0" cy="283.2" r="5.0"/><circle cx="653.3" cy="415.3" r="5.0"/><circle cx="634.6" cy="359.1" r="5.0"/><circle cx="655.3" cy="376.2" r="5.0"/><circle cx="638.8" cy="394.4" r="5.0"/><circle cx="648.5" cy="337.3" r="5.0"/><circle cx="649.4" cy="326.1" r="5.0"/><circle cx="630.7" cy="338.8" r="5.0"/><circle cx="639.0" cy="352.1" r="5.0"/><circle cx="646.9" cy="312.7" r="5.0"/><circle cx="642.9" cy="272.3" r="5.0"/><circle cx="656.8" cy="363.6" r="5.0"/><circle cx="647.4" cy="390.2" r="5.0"/><circle cx="653.4" cy="340.3" r="5.0"/><circle cx="645.2" cy="367.7" r="5.0"/><circle cx="645.6" cy="379.1" r="5.0"/><circle cx="647.0" cy="324.9" r="5.0"/><circle cx="651.2" cy="312.8" r="5.0"/><circle cx="650.3" cy="396.7" r="5.0"/><circle cx="642.6" cy="316.2" r="5.0"/><circle cx="644.7" cy="426.2" r="5.0"/><circle cx="643.3" cy="378.8" r="5.0"/><circle cx="652.2" cy="330.2" r="5.0"/><circle cx="645.7" cy="300.2" r="5.0"/><circle cx="652.3" cy="310.3" r="5.0"/><circle cx="648.1" cy="327.1" r="5.0"/><circle cx="653.0" cy="346.4" r="5.0"/><circle cx="638.7" cy="420.0" r="5.0"/><circle cx="632.2" cy="391.7" r="5.0"/><circle cx="641.1" cy="413.4" r="5.0"/><circle cx="641.3" cy="422.6" r="5.0"/><circle cx="636.9" cy="342.0" r="5.0"/><circle cx="651.8" cy="376.7" r="5.0"/><circle cx="635.5" cy="364.5" r="5.0"/><circle cx="633.7" cy="413.3" r="5.0"/><circle cx="651.5" cy="406.6" r="5.0"/><circle cx="637.5" cy="325.0" r="5.0"/><circle cx="643.6" cy="417.9" r="5.0"/><circle cx="633.8" cy="383.3" r="5.0"/><circle cx="646.9" cy="345.2" r="5.0"/><circle cx="646.4" cy="416.6" r="5.0"/><circle cx="635.3" cy="416.7" r="5.0"/><circle cx="639.8" cy="399.4" r="5.0"/><circle cx="637.9" cy="274.1" r="5.0"/><circle cx="632.3" cy="431.7" r="5.0"/><circle cx="633.5" cy="392.2" r="5.0"/><circle cx="639.2" cy="422.5" r="5.0"/><circle cx="650.5" cy="416.4" r="5.0"/><circle cx="636.0" cy="401.5" r="5.0"/><circle cx="649.7" cy="276.3" r="5.0"/><circle cx="644.1" cy="308.5" r="5.0"/><circle cx="638.5" cy="415.8" r="5.0"/><circle cx="632.6" cy="350.9" r="5.0"/><circle cx="633.1" cy="341.1" r="5.0"/><circle cx="634.4" cy="383.8" r="5.0"/><circle cx="633.4" cy="392.5" r="5.0"/><circle cx="644.0" cy="288.7" r="5.0"/><circle cx="639.6" cy="352.4" r="5.0"/><circle cx="635.5" cy="430.6" r="5.0"/><circle cx="641.2" cy="362.4" r="5.0"/><circle cx="649.6" cy="378.4" r="5.0"/><circle cx="645.3" cy="361.1" r="5.0"/><circle cx="641.0" cy="322.8" r="5.0"/><circle cx="641.6" cy="431.5" r="5.0"/><circle cx="640.6" cy="334.0" r="5.0"/><circle cx="647.2" cy="423.8" r="5.0"/><circle cx="636.6" cy="371.4" r="5.0"/><circle cx="649.8" cy="323.8" r="5.0"/><circle cx="648.4" cy="361.1" r="5.0"/><circle cx="638.5" cy="431.3" r="5.0"/><circle cx="654.6" cy="354.7" r="5.0"/><circle cx="636.0" cy="374.5" r="5.0"/><circle cx="651.3" cy="332.9" r="5.0"/><circle cx="650.4" cy="335.3" r="5.0"/><circle cx="644.8" cy="371.7" r="5.0"/><circle cx="649.3" cy="323.5" r="5.0"/><circle cx="647.9" cy="360.1" r="5.0"/><circle cx="635.7" cy="371.7" r="5.0"/><circle cx="636.9" cy="420.9" r="5.0"/><circle cx="643.2" cy="389.8" r="5.0"/><circle cx="644.7" cy="349.1" r="5.0"/><circle cx="656.8" cy="357.8" r="5.0"/><circle cx="644.7" cy="357.6" r="5.0"/><circle cx="653.4" cy="309.6" r="5.0"/><circle cx="634.2" cy="406.4" r="5.0"/><circle cx="642.8" cy="376.3" r="5.0"/><circle cx="640.4" cy="408.1" r="5.0"/><circle cx="632.1" cy="329.2" r="5.0"/><circle cx="653.1" cy="356.5" r="5.0"/><circle cx="642.6" cy="284.6" r="5.0"/><circle cx="649.9" cy="344.6" r="5.0"/><circle cx="643.4" cy="402.5" r="5.0"/><circle cx="649.4" cy="330.9" r="5.0"/><circle cx="644.6" cy="309.4" r="5.0"/><circle cx="640.1" cy="326.5" r="5.0"/><circle cx="640.4" cy="272.9" r="5.0"/><circle cx="635.0" cy="364.7" r="5.0"/><circle cx="636.0" cy="274.0" r="5.0"/><circle cx="643.0" cy="270.0" r="5.0"/><circle cx="651.0" cy="274.0" r="5.0"/><circle cx="646.0" cy="292.0" r="5.0"/><circle cx="652.0" cy="300.0" r="5.0"/><circle cx="654.0" cy="312.0" r="5.0"/><circle cx="650.0" cy="320.0" r="5.0"/><circle cx="655.0" cy="340.0" r="5.0"/><circle cx="659.0" cy="366.0" r="5.0"/><circle cx="655.0" cy="385.0" r="5.0"/><circle cx="654.0" cy="406.0" r="5.0"/><circle cx="655.0" cy="413.0" r="5.0"/><circle cx="650.0" cy="425.0" r="5.0"/><circle cx="645.0" cy="436.0" r="5.0"/><circle cx="631.0" cy="434.0" r="5.0"/><circle cx="630.0" cy="420.0" r="5.0"/><circle cx="629.0" cy="397.0" r="5.0"/><circle cx="633.0" cy="385.0" r="5.0"/><circle cx="634.0" cy="367.0" r="5.0"/><circle cx="631.0" cy="350.0" r="5.0"/><circle cx="630.0" cy="331.0" r="5.0"/><circle cx="641.0" cy="320.0" r="5.0"/><circle cx="642.0" cy="300.0" r="5.0"/><circle cx="642.0" cy="285.0" r="5.0"/><circle cx="650.9" cy="189.6" r="5.0"/><circle cx="631.6" cy="213.7" r="5.0"/><circle cx="647.7" cy="231.3" r="5.0"/><circle cx="660.0" cy="226.9" r="5.0"/><circle cx="644.4" cy="469.4" r="5.0"/></g>
<g fill="#d62728"><circle cx="688.1" cy="323.9" r="5.0"/><circle cx="677.1" cy="320.1" r="5.0"/><circle cx="685.8" cy="391.6" r="5.0"/><circle cx="673.6" cy="341.1" r="5.0"/><circle cx="680.4" cy="334.6" r="5.0"/><circle cx="688.0" cy="326.2" r="5.0"/><circle cx="679.4" cy="367.2" r="5.0"/><circle cx="690.7" cy="332.9" r="5.0"/><circle cx="678.8" cy="359.1" r="5.0"/><circle cx="678.4" cy="369.2" r="5.0"/><circle cx="689.2" cy="336.0" r="5.0"/><circle cx="682.7" cy="349.6" r="5.0"/><circle cx="668.7" cy="360.8" r="5.0"/><circle cx="681.0" cy="345.6" r="5.0"/><circle cx="691.5" cy="340.1" r="5.0"/><circle cx="681.3" cy="395.3" r="5.0"/><circle cx="680.3" cy="349.0" r="5.0"/><circle cx="682.3" cy="387.7" r="5.0"/><circle cx="686.8" cy="377.9" r="5.0"/><circle cx="679.2" cy="296.7" r="5.0"/><circle cx="687.0" cy="356.2" r="5.0"/><circle cx="689.5" cy="381.3" r="5.0"/><circle cx="671.3" cy="317.6" r="5.0"/><circle cx="670.2" cy="386.8" r="5.0"/><circle cx="689.1" cy="357.5" r="5.0"/><circle cx="687.9" cy="348.0" r="5.0"/><circle cx="679.7" cy="359.7" r="5.0"/><circle cx="677.4" cy="352.1" r="5.0"/><circle cx="675.7" cy="322.4" r="5.0"/><circle cx="676.8" cy="321.6" r="5.0"/><circle cx="682.3" cy="340.7" r="5.0"/><circle cx="669.4" cy="327.3" r="5.0"/><circle cx="692.0" cy="321.8" r="5.0"/><circle cx="683.0" cy="335.4" r="5.0"/><circle cx="681.0" cy="348.7" r="5.0"/><circle cx="684.3" cy="334.4" r="5.0"/><circle cx="690.4" cy="315.2" r="5.0"/><circle cx="669.4" cy="328.5" r="5.0"/><circle cx="682.9" cy="339.4" r="5.0"/><circle cx="683.8" cy="329.5" r="5.0"/><circle cx="675.7" cy="384.3" r="5.0"/><circle cx="676.2" cy="374.4" r="5.0"/><circle cx="680.7" cy="400.4" r="5.0"/><circle cx="680.5" cy="393.9" r="5.0"/><circle cx="669.6" cy="342.3" r="5.0"/><circle cx="685.9" cy="297.7" r="5.0"/><circle cx="684.7" cy="312.9" r="5.0"/><circle cx="690.4" cy="349.8" r="5.0"/><circle cx="686.9" cy="370.3" r="5.0"/><circle cx="676.3" cy="316.5" r="5.0"/><circle cx="679.6" cy="368.4" r="5.0"/><circle cx="675.2" cy="397.1" r="5.0"/><circle cx="687.2" cy="310.0" r="5.0"/><circle cx="669.2" cy="389.0" r="5.0"/><circle cx="676.2" cy="319.0" r="5.0"/><circle cx="684.3" cy="329.0" r="5.0"/><circle cx="683.7" cy="309.9" r="5.0"/><circle cx="693.5" cy="329.6" r="5.0"/><circle cx="678.6" cy="366.3" r="5.0"/><circle cx="674.3" cy="355.3" r="5.0"/><circle cx="670.6" cy="345.9" r="5.0"/><circle cx="688.4" cy="341.9" r="5.0"/><circle cx="687.0" cy="305.3" r="5.0"/><circle cx="676.1" cy="332.4" r="5.0"/><circle cx="689.0" cy="349.6" r="5.0"/><circle cx="681.6" cy="392.2" r="5.0"/><circle cx="684.7" cy="354.7" r="5.0"/><circle cx="675.6" cy="395.6" r="5.0"/><circle cx="691.7" cy="318.4" r="5.0"/><circle cx="677.6" cy="401.6" r="5.0"/><circle cx="686.4" cy="297.8" r="5.0"/><circle cx="677.3" cy="344.2" r="5.0"/><circle cx="674.9" cy="378.1" r="5.0"/><circle cx="673.0" cy="383.4" r="5.0"/><circle cx="683.7" cy="303.1" r="5.0"/><circle cx="683.4" cy="383.4" r="5.0"/><circle cx="684.7" cy="345.5" r="5.0"/><circle cx="668.9" cy="351.6" r="5.0"/><circle cx="670.7" cy="367.0" r="5.0"/><circle cx="671.7" cy="359.0" r="5.0"/><circle cx="677.9" cy="335.5" r="5.0"/><circle cx="686.6" cy="311.0" r="5.0"/><circle cx="672.8" cy="401.2" r="5.0"/><circle cx="677.3" cy="389.7" r="5.0"/><circle cx="692.5" cy="347.7" r="5.0"/><circle cx="681.9" cy="354.2" r="5.0"/><circle cx="671.3" cy="346.3" r="5.0"/><circle cx="672.6" cy="354.1" r="5.0"/><circle cx="682.2" cy="334.6" r="5.0"/><circle cx="673.5" cy="338.8" r="5.0"/><circle cx="674.7" cy="393.1" r="5.0"/><circle cx="682.1" cy="395.3" r="5.0"/><circle cx="668.4" cy="401.4" r="5.0"/><circle cx="681.7" cy="383.8" r="5.0"/><circle cx="684.0" cy="371.9" r="5.0"/><circle cx="674.4" cy="379.0" r="5.0"/><circle cx="672.3" cy="322.6" r="5.0"/><circle cx="668.9" cy="337.6" r="5.0"/><circle cx="682.5" cy="325.9" r="5.0"/><circle cx="684.2" cy="319.1" r="5.0"/><circle cx="684.7" cy="382.9" r="5.0"/><circle cx="687.9" cy="299.2" r="5.0"/><circle cx="674.9" cy="361.5" r="5.0"/><circle cx="685.3" cy="372.3" r="5.0"/><circle cx="690.8" cy="331.7" r="5.0"/><circle cx="690.7" cy="345.6" r="5.0"/><circle cx="680.0" cy="292.0" r="5.0"/><circle cx="684.0" cy="294.0" r="5.0"/><circle cx="690.0" cy="300.0" r="5.0"/><circle cx="691.0" cy="310.0" r="5.0"/><circle cx="693.0" cy="320.0" r="5.0"/><circle cx="696.0" cy="330.0" r="5.0"/><circle cx="696.0" cy="346.0" r="5.0"/><circle cx="690.0" cy="355.0" r="5.0"/><circle cx="688.0" cy="365.0" r="5.0"/><circle cx="691.0" cy="375.0" r="5.0"/><circle cx="692.0" cy="383.0" r="5.0"/><circle cx="685.0" cy="395.0" r="5.0"/><circle cx="680.0" cy="408.0" r="5.0"/><circle cx="668.0" cy="405.0" r="5.0"/><circle cx="668.0" cy="385.0" r="5.0"/><circle cx="672.0" cy="375.0" r="5.0"/><circle cx="668.0" cy="360.0" r="5.0"/><circle cx="668.0" cy="340.0" r="5.0"/><circle cx="668.0" cy="318.0" r="5.0"/><circle cx="678.0" cy="300.0" r="5.0"/><circle cx="688.8" cy="191.3" r="5.0"/><circle cx="668.7" cy="239.3" r="5.0"/><circle cx="673.6" cy="264.3" r="5.0"/><circle cx="684.5" cy="264.3" r="5.0"/><circle cx="679.8" cy="274.6" r="5.0"/><circle cx="696.3" cy="275.6" r="5.0"/><circle cx="687.0" cy="286.0" r="5.0"/><circle cx="681.5" cy="444.3" r="5.0"/></g>
<g fill="#9467bd"><circle cx="732.3" cy="385.3" r="5.0"/><circle cx="717.4" cy="360.7" r="5.0"/><circle cx="712.9" cy="409.8" r="5.0"/><circle cx="725.0" cy="365.5" r="5.0"/><circle cx="715.6" cy="364.7" r="5.0"/><circle cx="711.5" cy="370.7" r="5.0"/><circle cx="715.3" cy="428.2" r="5.0"/><circle cx="719.4" cy="391.8" r="5.0"/><circle cx="727.0" cy="402.4" r="5.0"/><circle cx="711.6" cy="401.5" r="5.0"/><circle cx="708.6" cy="408.5" r="5.0"/><circle cx="715.8" cy="366.3" r="5.0"/><circle cx="726.9" cy="364.3" r="5.0"/><circle cx="722.5" cy="387.1" r="5.0"/><circle cx="713.1" cy="417.7" r="5.0"/><circle cx="712.5" cy="369.0" r="5.0"/><circle cx="718.8" cy="372.0" r="5.0"/><circle cx="719.8" cy="423.0" r="5.0"/><circle cx="725.2" cy="408.0" r="5.0"/><circle cx="717.0" cy="413.6" r="5.0"/><circle cx="717.4" cy="360.6" r="5.0"/><circle cx="724.3" cy="417.6" r="5.0"/><circle cx="715.5" cy="399.2" r="5.0"/><circle cx="728.7" cy="385.8" r="5.0"/><circle cx="722.9" cy="388.8" r="5.0"/><circle cx="715.4" cy="370.2" r="5.0"/><circle cx="715.9" cy="418.2" r="5.0"/><circle cx="723.3" cy="376.2" r="5.0"/><circle cx="708.5" cy="374.6" r="5.0"/><circle cx="725.6" cy="387.6" r="5.0"/><circle cx="724.5" cy="415.3" r="5.0"/><circle cx="709.4" cy="405.9" r="5.0"/><circle cx="711.2" cy="374.6" r="5.0"/><circle cx="712.3" cy="421.6" r="5.0"/><circle cx="723.1" cy="421.9" r="5.0"/><circle cx="717.0" cy="392.0" r="5.0"/><circle cx="729.3" cy="366.3" r="5.0"/><circle cx="718.7" cy="415.5" r="5.0"/><circle cx="713.0" cy="380.8" r="5.0"/><circle cx="708.8" cy="396.0" r="5.0"/><circle cx="716.5" cy="424.6" r="5.0"/><circle cx="708.1" cy="401.4" r="5.0"/><circle cx="718.4" cy="426.8" r="5.0"/><circle cx="716.1" cy="404.2" r="5.0"/><circle cx="723.7" cy="382.6" r="5.0"/><circle cx="720.6" cy="405.4" r="5.0"/><circle cx="716.2" cy="428.2" r="5.0"/><circle cx="725.1" cy="396.4" r="5.0"/><circle cx="718.5" cy="411.1" r="5.0"/><circle cx="727.0" cy="356.7" r="5.0"/><circle cx="715.1" cy="364.4" r="5.0"/><circle cx="710.0" cy="398.7" r="5.0"/><circle cx="722.1" cy="357.5" r="5.0"/><circle cx="717.0" cy="410.8" r="5.0"/><circle cx="724.0" cy="375.3" r="5.0"/><circle cx="727.3" cy="376.1" r="5.0"/><circle cx="721.2" cy="386.0" r="5.0"/><circle cx="716.7" cy="427.2" r="5.0"/><circle cx="725.9" cy="406.5" r="5.0"/><circle cx="713.8" cy="366.3" r="5.0"/><circle cx="722.1" cy="416.8" r="5.0"/><circle cx="728.2" cy="380.4" r="5.0"/><circle cx="709.9" cy="393.2" r="5.0"/><circle cx="726.7" cy="367.0" r="5.0"/><circle cx="714.3" cy="383.1" r="5.0"/><circle cx="711.2" cy="377.5" r="5.0"/><circle cx="715.0" cy="387.3" r="5.0"/><circle cx="709.0" cy="373.8" r="5.0"/><circle cx="717.0" cy="383.3" r="5.0"/><circle cx="711.7" cy="423.1" r="5.0"/><circle cx="718.6" cy="417.6" r="5.0"/><circle cx="723.8" cy="413.2" r="5.0"/><circle cx="714.8" cy="365.6" r="5.0"/><circle cx="727.2" cy="389.7" r="5.0"/><circle cx="721.6" cy="405.0" r="5.0"/><circle cx="727.1" cy="374.9" r="5.0"/><circle cx="716.2" cy="423.7" r="5.0"/><circle cx="720.8" cy="375.9" r="5.0"/><circle cx="723.6" cy="373.7" r="5.0"/><circle cx="727.6" cy="357.1" r="5.0"/><circle cx="716.0" cy="360.0" r="5.0"/><circle cx="727.0" cy="354.0" r="5.0"/><circle cx="730.0" cy="365.0" r="5.0"/><circle cx="730.0" cy="380.0" r="5.0"/><circle cx="734.0" cy="388.0" r="5.0"/><circle cx="728.0" cy="395.0" r="5.0"/><circle cx="728.0" cy="410.0" r="5.0"/><circle cx="724.0" cy="420.0" r="5.0"/><circle cx="720.0" cy="430.0" r="5.0"/><circle cx="716.0" cy="430.0" r="5.0"/><circle cx="710.0" cy="425.0" r="5.0"/><circle cx="707.0" cy="410.0" r="5.0"/><circle cx="706.0" cy="395.0" r="5.0"/><circle cx="707.0" cy="380.0" r="5.0"/><circle cx="707.0" cy="365.0" r="5.0"/><circle cx="705.1" cy="442.7" r="5.0"/><circle cx="715.7" cy="438.9" r="5.0"/><circle cx="727.8" cy="445.7" r="5.0"/><circle cx="715.7" cy="453.3" r="5.0"/><circle cx="720.0" cy="445.0" r="5.0"/><circle cx="733.6" cy="467.7" r="5.0"/></g>
<g fill="#8c564b"><circle cx="766.3" cy="456.6" r="5.0"/><circle cx="753.5" cy="499.2" r="5.0"/><circle cx="751.2" cy="419.7" r="5.0"/><circle cx="764.4" cy="469.3" r="5.0"/><circle cx="755.1" cy="484.1" r="5.0"/><circle cx="747.0" cy="427.0" r="5.0"/><circle cx="761.4" cy="502.3" r="5.0"/><circle cx="761.1" cy="470.9" r="5.0"/><circle cx="764.9" cy="437.0" r="5.0"/><circle cx="753.2" cy="436.8" r="5.0"/><circle cx="765.8" cy="431.9" r="5.0"/><circle cx="749.0" cy="491.4" r="5.0"/><circle cx="758.4" cy="451.4" r="5.0"/><circle cx="762.1" cy="494.8" r="5.0"/><circle cx="747.6" cy="430.6" r="5.0"/><circle cx="745.8" cy="439.1" r="5.0"/><circle cx="757.6" cy="489.1" r="5.0"/><circle cx="762.0" cy="457.9" r="5.0"/><circle cx="754.9" cy="457.4" r="5.0"/><circle cx="751.4" cy="488.3" r="5.0"/><circle cx="765.3" cy="487.6" r="5.0"/><circle cx="748.1" cy="468.6" r="5.0"/><circle cx="764.4" cy="449.1" r="5.0"/><circle cx="764.1" cy="485.6" r="5.0"/><circle cx="761.5" cy="492.2" r="5.0"/><circle cx="747.5" cy="472.3" r="5.0"/><circle cx="763.0" cy="461.8" r="5.0"/><circle cx="751.4" cy="399.7" r="5.0"/><circle cx="760.3" cy="486.0" r="5.0"/><circle cx="751.4" cy="416.3" r="5.0"/><circle cx="750.0" cy="402.7" r="5.0"/><circle cx="765.7" cy="433.0" r="5.0"/><circle cx="762.9" cy="400.2" r="5.0"/><circle cx="766.6" cy="429.1" r="5.0"/><circle cx="747.7" cy="423.4" r="5.0"/><circle cx="745.6" cy="442.8" r="5.0"/><circle cx="759.0" cy="484.0" r="5.0"/><circle cx="745.1" cy="486.3" r="5.0"/><circle cx="747.0" cy="417.6" r="5.0"/><circle cx="761.0" cy="430.8" r="5.0"/><circle cx="752.9" cy="456.8" r="5.0"/><circle cx="749.9" cy="482.5" r="5.0"/><circle cx="749.6" cy="487.7" r="5.0"/><circle cx="765.8" cy="453.2" r="5.0"/><circle cx="755.4" cy="399.2" r="5.0"/><circle cx="761.0" cy="474.6" r="5.0"/><circle cx="759.8" cy="437.6" r="5.0"/><circle cx="757.8" cy="459.1" r="5.0"/><circle cx="750.1" cy="490.9" r="5.0"/><circle cx="770.0" cy="429.6" r="5.0"/><circle cx="756.9" cy="407.2" r="5.0"/><circle cx="756.3" cy="469.8" r="5.0"/><circle cx="763.1" cy="443.8" r="5.0"/><circle cx="753.2" cy="413.7" r="5.0"/><circle cx="754.9" cy="424.2" r="5.0"/><circle cx="749.2" cy="475.9" r="5.0"/><circle cx="757.9" cy="442.0" r="5.0"/><circle cx="749.3" cy="472.2" r="5.0"/><circle cx="749.3" cy="422.3" r="5.0"/><circle cx="759.1" cy="471.9" r="5.0"/><circle cx="763.5" cy="474.0" r="5.0"/><circle cx="745.7" cy="415.4" r="5.0"/><circle cx="763.5" cy="463.8" r="5.0"/><circle cx="751.1" cy="432.5" r="5.0"/><circle cx="748.4" cy="464.1" r="5.0"/><circle cx="770.8" cy="426.9" r="5.0"/><circle cx="753.6" cy="494.5" r="5.0"/><circle cx="765.7" cy="443.9" r="5.0"/><circle cx="746.8" cy="404.2" r="5.0"/><circle cx="748.2" cy="480.6" r="5.0"/><circle cx="756.7" cy="504.9" r="5.0"/><circle cx="756.9" cy="485.7" r="5.0"/><circle cx="747.5" cy="404.4" r="5.0"/><circle cx="759.2" cy="449.9" r="5.0"/><circle cx="749.7" cy="420.7" r="5.0"/><circle cx="763.2" cy="499.8" r="5.0"/><circle cx="763.8" cy="435.8" r="5.0"/><circle cx="749.8" cy="458.7" r="5.0"/><circle cx="756.5" cy="396.9" r="5.0"/><circle cx="745.9" cy="428.9" r="5.0"/><circle cx="760.9" cy="492.9" r="5.0"/><circle cx="757.1" cy="464.9" r="5.0"/><circle cx="749.6" cy="419.7" r="5.0"/><circle cx="747.4" cy="414.8" r="5.0"/><circle cx="756.3" cy="458.8" r="5.0"/><circle cx="761.2" cy="472.6" r="5.0"/><circle cx="755.9" cy="399.7" r="5.0"/><circle cx="763.6" cy="398.1" r="5.0"/><circle cx="756.7" cy="437.6" r="5.0"/><circle cx="762.2" cy="473.4" r="5.0"/><circle cx="750.5" cy="466.0" r="5.0"/><circle cx="762.7" cy="445.8" r="5.0"/><circle cx="747.8" cy="495.6" r="5.0"/><circle cx="760.2" cy="399.2" r="5.0"/><circle cx="750.2" cy="436.7" r="5.0"/><circle cx="765.3" cy="485.9" r="5.0"/><circle cx="761.1" cy="476.5" r="5.0"/><circle cx="745.0" cy="402.7" r="5.0"/><circle cx="750.5" cy="498.1" r="5.0"/><circle cx="749.9" cy="468.6" r="5.0"/><circle cx="768.8" cy="422.0" r="5.0"/><circle cx="764.4" cy="403.8" r="5.0"/><circle cx="749.0" cy="484.0" r="5.0"/><circle cx="748.4" cy="450.4" r="5.0"/><circle cx="746.9" cy="481.7" r="5.0"/><circle cx="759.0" cy="485.6" r="5.0"/><circle cx="757.6" cy="462.7" r="5.0"/><circle cx="760.1" cy="483.1" r="5.0"/><circle cx="758.7" cy="425.2" r="5.0"/><circle cx="756.4" cy="405.9" r="5.0"/><circle cx="761.6" cy="415.6" r="5.0"/><circle cx="755.6" cy="404.6" r="5.0"/><circle cx="745.0" cy="402.0" r="5.0"/><circle cx="752.0" cy="392.0" r="5.0"/><circle cx="758.0" cy="398.0" r="5.0"/><circle cx="765.0" cy="397.0" r="5.0"/><circle cx="768.0" cy="415.0" r="5.0"/><circle cx="771.0" cy="427.0" r="5.0"/><circle cx="767.0" cy="440.0" r="5.0"/><circle cx="768.0" cy="450.0" r="5.0"/><circle cx="765.0" cy="469.0" r="5.0"/><circle cx="766.0" cy="484.0" r="5.0"/><circle cx="765.0" cy="502.0" r="5.0"/><circle cx="755.0" cy="506.0" r="5.0"/><circle cx="744.0" cy="495.0" r="5.0"/><circle cx="746.0" cy="477.0" r="5.0"/><circle cx="748.0" cy="461.0" r="5.0"/><circle cx="745.0" cy="444.0" r="5.0"/><circle cx="746.0" cy="427.0" r="5.0"/><circle cx="757.8" cy="345.1" r="5.0"/><circle cx="753.8" cy="353.4" r="5.0"/><circle cx="757.8" cy="373.1" r="5.0"/><circle cx="764.9" cy="379.9" r="5.0"/><circle cx="752.0" cy="386.0" r="5.0"/><circle cx="747.5" cy="389.8" r="5.0"/><circle cx="753.8" cy="518.6" r="5.0"/><circle cx="754.9" cy="525.3" r="5.0"/><circle cx="762.7" cy="530.8" r="5.0"/><circle cx="751.6" cy="535.3" r="5.0"/><circle cx="764.9" cy="540.8" r="5.0"/><circle cx="753.8" cy="556.3" r="5.0"/><circle cx="764.9" cy="554.1" r="5.0"/><circle cx="743.8" cy="578.5" r="5.0"/><circle cx="758.7" cy="616.1" r="5.0"/><circle cx="771.0" cy="650.0" r="5.0"/></g>
<g fill="#e377c2"><circle cx="791.2" cy="421.8" r="5.0"/><circle cx="801.0" cy="540.4" r="5.0"/><circle cx="804.1" cy="422.9" r="5.0"/><circle cx="791.6" cy="454.5" r="5.0"/><circle cx="801.8" cy="430.2" r="5.0"/><circle cx="783.9" cy="424.8" r="5.0"/><circle cx="800.0" cy="501.0" r="5.0"/><circle cx="795.5" cy="478.5" r="5.0"/><circle cx="792.6" cy="502.9" r="5.0"/><circle cx="798.9" cy="550.9" r="5.0"/><circle cx="801.0" cy="532.1" r="5.0"/><circle cx="799.7" cy="540.4" r="5.0"/><circle cx="793.2" cy="544.9" r="5.0"/><circle cx="793.5" cy="517.9" r="5.0"/><circle cx="788.6" cy="454.2" r="5.0"/><circle cx="791.1" cy="457.9" r="5.0"/><circle cx="784.5" cy="476.5" r="5.0"/><circle cx="801.6" cy="450.0" r="5.0"/><circle cx="788.5" cy="471.7" r="5.0"/><circle cx="790.5" cy="528.0" r="5.0"/><circle cx="802.1" cy="546.7" r="5.0"/><circle cx="802.7" cy="490.5" r="5.0"/><circle cx="784.7" cy="536.6" r="5.0"/><circle cx="790.2" cy="505.4" r="5.0"/><circle cx="791.5" cy="491.4" r="5.0"/><circle cx="795.8" cy="509.0" r="5.0"/><circle cx="796.0" cy="554.3" r="5.0"/><circle cx="792.6" cy="550.5" r="5.0"/><circle cx="784.3" cy="440.3" r="5.0"/><circle cx="789.5" cy="549.3" r="5.0"/><circle cx="782.4" cy="447.8" r="5.0"/><circle cx="786.6" cy="475.8" r="5.0"/><circle cx="799.9" cy="515.4" r="5.0"/><circle cx="801.4" cy="525.2" r="5.0"/><circle cx="788.5" cy="447.4" r="5.0"/><circle cx="782.7" cy="515.5" r="5.0"/><circle cx="787.4" cy="447.7" r="5.0"/><circle cx="797.4" cy="510.0" r="5.0"/><circle cx="797.5" cy="516.1" r="5.0"/><circle cx="789.9" cy="417.0" r="5.0"/><circle cx="783.7" cy="409.3" r="5.0"/><circle cx="791.4" cy="429.3" r="5.0"/><circle cx="784.9" cy="484.5" r="5.0"/><circle cx="789.1" cy="527.8" r="5.0"/><circle cx="786.6" cy="422.7" r="5.0"/><circle cx="789.9" cy="471.2" r="5.0"/><circle cx="799.9" cy="476.9" r="5.0"/><circle cx="800.9" cy="421.9" r="5.0"/><circle cx="806.2" cy="460.7" r="5.0"/><circle cx="803.5" cy="442.5" r="5.0"/><circle cx="799.4" cy="450.6" r="5.0"/><circle cx="799.1" cy="499.2" r="5.0"/><circle cx="799.2" cy="435.4" r="5.0"/><circle cx="785.7" cy="422.2" r="5.0"/><circle cx="799.0" cy="496.4" r="5.0"/><circle cx="787.8" cy="417.2" r="5.0"/><circle cx="782.4" cy="540.9" r="5.0"/><circle cx="791.5" cy="520.5" r="5.0"/><circle cx="785.6" cy="530.7" r="5.0"/><circle cx="788.5" cy="464.5" r="5.0"/><circle cx="795.6" cy="424.5" r="5.0"/><circle cx="788.5" cy="532.0" r="5.0"/><circle cx="789.4" cy="466.8" r="5.0"/><circle cx="801.9" cy="442.2" r="5.0"/><circle cx="787.0" cy="441.4" r="5.0"/><circle cx="792.0" cy="464.4" r="5.0"/><circle cx="798.7" cy="481.1" r="5.0"/><circle cx="799.3" cy="538.3" r="5.0"/><circle cx="788.1" cy="411.6" r="5.0"/><circle cx="793.4" cy="425.2" r="5.0"/><circle cx="794.0" cy="518.7" r="5.0"/><circle cx="784.4" cy="425.5" r="5.0"/><circle cx="794.5" cy="434.3" r="5.0"/><circle cx="788.0" cy="476.1" r="5.0"/><circle cx="785.1" cy="417.7" r="5.0"/><circle cx="791.4" cy="480.7" r="5.0"/><circle cx="783.9" cy="441.9" r="5.0"/><circle cx="801.3" cy="495.4" r="5.0"/><circle cx="804.3" cy="424.3" r="5.0"/><circle cx="788.2" cy="433.8" r="5.0"/><circle cx="804.5" cy="440.3" r="5.0"/><circle cx="784.2" cy="448.7" r="5.0"/><circle cx="801.0" cy="418.7" r="5.0"/><circle cx="793.8" cy="456.9" r="5.0"/><circle cx="787.3" cy="511.1" r="5.0"/><circle cx="791.4" cy="425.8" r="5.0"/><circle cx="786.7" cy="408.7" r="5.0"/><circle cx="799.0" cy="487.8" r="5.0"/><circle cx="782.6" cy="480.8" r="5.0"/><circle cx="801.3" cy="491.3" r="5.0"/><circle cx="788.1" cy="485.3" r="5.0"/><circle cx="797.7" cy="509.2" r="5.0"/><circle cx="785.8" cy="533.2" r="5.0"/><circle cx="804.3" cy="464.7" r="5.0"/><circle cx="787.9" cy="500.9" r="5.0"/><circle cx="805.4" cy="419.9" r="5.0"/><circle cx="787.6" cy="412.6" r="5.0"/><circle cx="793.4" cy="429.1" r="5.0"/><circle cx="787.0" cy="524.6" r="5.0"/><circle cx="784.0" cy="407.0" r="5.0"/><circle cx="792.0" cy="412.0" r="5.0"/><circle cx="803.0" cy="412.0" r="5.0"/><circle cx="806.0" cy="420.0" r="5.0"/><circle cx="804.0" cy="430.0" r="5.0"/><circle cx="806.0" cy="445.0" r="5.0"/><circle cx="808.0" cy="462.0" r="5.0"/><circle cx="803.0" cy="475.0" r="5.0"/><circle cx="803.0" cy="490.0" r="5.0"/><circle cx="803.0" cy="513.0" r="5.0"/><circle cx="803.0" cy="530.0" r="5.0"/><circle cx="803.0" cy="546.0" r="5.0"/><circle cx="797.0" cy="555.0" r="5.0"/><circle cx="793.0" cy="564.0" r="5.0"/><circle cx="787.0" cy="555.0" r="5.0"/><circle cx="782.0" cy="540.0" r="5.0"/><circle cx="782.0" cy="528.0" r="5.0"/><circle cx="782.0" cy="510.0" r="5.0"/><circle cx="783.0" cy="490.0" r="5.0"/><circle cx="782.0" cy="470.0" r="5.0"/><circle cx="782.0" cy="450.0" r="5.0"/><circle cx="784.0" cy="430.0" r="5.0"/><circle cx="783.0" cy="415.0" r="5.0"/><circle cx="795.4" cy="362.7" r="5.0"/><circle cx="791.4" cy="372.7" r="5.0"/><circle cx="795.4" cy="389.9" r="5.0"/><circle cx="791.0" cy="576.4" r="5.0"/><circle cx="800.3" cy="579.7" r="5.0"/><circle cx="803.7" cy="590.8" r="5.0"/><circle cx="791.5" cy="594.1" r="5.0"/><circle cx="804.3" cy="607.8" r="5.0"/><circle cx="782.6" cy="640.6" r="5.0"/><circle cx="796.6" cy="670.0" r="5.0"/><circle cx="808.7" cy="703.7" r="5.0"/></g>
<g fill="#7f7f7f"><circle cx="836.7" cy="543.3" r="5.0"/><circle cx="831.9" cy="514.7" r="5.0"/><circle cx="827.3" cy="492.5" r="5.0"/><circle cx="834.8" cy="544.3" r="5.0"/><circle cx="834.3" cy="549.1" r="5.0"/><circle cx="837.8" cy="463.8" r="5.0"/><circle cx="829.7" cy="484.8" r="5.0"/><circle cx="830.3" cy="513.6" r="5.0"/><circle cx="821.6" cy="481.1" r="5.0"/><circle cx="825.4" cy="531.1" r="5.0"/><circle cx="821.0" cy="506.8" r="5.0"/><circle cx="828.0" cy="490.0" r="5.0"/><circle cx="836.2" cy="518.3" r="5.0"/><circle cx="824.7" cy="466.4" r="5.0"/><circle cx="825.0" cy="455.1" r="5.0"/><circle cx="835.1" cy="504.0" r="5.0"/><circle cx="827.3" cy="458.4" r="5.0"/><circle cx="836.8" cy="489.8" r="5.0"/><circle cx="832.0" cy="537.7" r="5.0"/><circle cx="838.9" cy="534.6" r="5.0"/><circle cx="846.4" cy="484.9" r="5.0"/><circle cx="828.8" cy="471.8" r="5.0"/><circle cx="832.3" cy="498.2" r="5.0"/><circle cx="838.6" cy="496.4" r="5.0"/><circle cx="824.1" cy="466.8" r="5.0"/><circle cx="838.8" cy="504.5" r="5.0"/><circle cx="836.4" cy="460.0" r="5.0"/><circle cx="839.7" cy="468.1" r="5.0"/><circle cx="827.4" cy="480.3" r="5.0"/><circle cx="835.1" cy="514.5" r="5.0"/><circle cx="823.0" cy="521.5" r="5.0"/><circle cx="837.9" cy="491.9" r="5.0"/><circle cx="839.1" cy="528.0" r="5.0"/><circle cx="821.3" cy="492.3" r="5.0"/><circle cx="839.3" cy="518.0" r="5.0"/><circle cx="838.5" cy="459.8" r="5.0"/><circle cx="827.3" cy="487.4" r="5.0"/><circle cx="832.0" cy="545.8" r="5.0"/><circle cx="840.9" cy="479.6" r="5.0"/><circle cx="838.9" cy="524.4" r="5.0"/><circle cx="824.4" cy="464.5" r="5.0"/><circle cx="826.8" cy="469.3" r="5.0"/><circle cx="832.0" cy="486.3" r="5.0"/><circle cx="823.1" cy="504.1" r="5.0"/><circle cx="830.6" cy="517.5" r="5.0"/><circle cx="832.8" cy="459.3" r="5.0"/><circle cx="839.3" cy="457.7" r="5.0"/><circle cx="831.0" cy="545.9" r="5.0"/><circle cx="841.7" cy="531.9" r="5.0"/><circle cx="838.3" cy="509.8" r="5.0"/><circle cx="840.0" cy="546.3" r="5.0"/><circle cx="826.3" cy="524.3" r="5.0"/><circle cx="829.1" cy="468.1" r="5.0"/><circle cx="836.9" cy="461.8" r="5.0"/><circle cx="821.4" cy="498.8" r="5.0"/><circle cx="840.6" cy="470.0" r="5.0"/><circle cx="825.7" cy="516.5" r="5.0"/><circle cx="828.2" cy="518.2" r="5.0"/><circle cx="830.1" cy="497.5" r="5.0"/><circle cx="829.6" cy="485.9" r="5.0"/><circle cx="833.9" cy="468.4" r="5.0"/><circle cx="822.5" cy="449.2" r="5.0"/><circle cx="825.4" cy="450.1" r="5.0"/><circle cx="837.8" cy="516.6" r="5.0"/><circle cx="828.1" cy="527.1" r="5.0"/><circle cx="840.7" cy="477.6" r="5.0"/><circle cx="834.3" cy="460.7" r="5.0"/><circle cx="822.4" cy="456.9" r="5.0"/><circle cx="839.7" cy="482.4" r="5.0"/><circle cx="840.4" cy="465.2" r="5.0"/><circle cx="842.5" cy="528.2" r="5.0"/><circle cx="823.5" cy="504.5" r="5.0"/><circle cx="826.2" cy="517.9" r="5.0"/><circle cx="842.7" cy="527.0" r="5.0"/><circle cx="827.2" cy="450.3" r="5.0"/><circle cx="838.9" cy="502.2" r="5.0"/><circle cx="824.7" cy="461.2" r="5.0"/><circle cx="836.7" cy="451.9" r="5.0"/><circle cx="822.0" cy="445.0" r="5.0"/><circle cx="830.0" cy="440.0" r="5.0"/><circle cx="838.0" cy="445.0" r="5.0"/><circle cx="843.0" cy="452.0" r="5.0"/><circle cx="843.0" cy="465.0" r="5.0"/><circle cx="846.0" cy="480.0" r="5.0"/><circle cx="848.0" cy="488.0" r="5.0"/><circle cx="843.0" cy="500.0" r="5.0"/><circle cx="843.0" cy="515.0" r="5.0"/><circle cx="843.0" cy="527.0" r="5.0"/><circle cx="840.0" cy="540.0" r="5.0"/><circle cx="843.0" cy="547.0" r="5.0"/><circle cx="838.0" cy="550.0" r="5.0"/><circle cx="830.0" cy="550.0" r="5.0"/><circle cx="826.0" cy="540.0" r="5.0"/><circle cx="822.0" cy="525.0" r="5.0"/><circle cx="821.0" cy="510.0" r="5.0"/><circle cx="821.0" cy="490.0" r="5.0"/><circle cx="821.0" cy="470.0" r="5.0"/><circle cx="822.0" cy="455.0" r="5.0"/><circle cx="833.3" cy="421.0" r="5.0"/><circle cx="833.3" cy="429.9" r="5.0"/><circle cx="829.4" cy="435.4" r="5.0"/><circle cx="820.5" cy="443.2" r="5.0"/><circle cx="843.7" cy="559.4" r="5.0"/><circle cx="821.0" cy="588.2" r="5.0"/><circle cx="834.4" cy="593.7" r="5.0"/><circle cx="847.1" cy="613.6" r="5.0"/></g>
<g fill="#bcbd22"><circle cx="876.5" cy="479.4" r="5.0"/><circle cx="866.7" cy="491.8" r="5.0"/><circle cx="873.9" cy="512.3" r="5.0"/><circle cx="860.8" cy="512.3" r="5.0"/><circle cx="865.7" cy="482.8" r="5.0"/><circle cx="876.6" cy="510.0" r="5.0"/><circle cx="876.0" cy="524.3" r="5.0"/><circle cx="865.3" cy="484.2" r="5.0"/><circle cx="877.2" cy="480.7" r="5.0"/><circle cx="864.1" cy="478.4" r="5.0"/><circle cx="880.1" cy="519.2" r="5.0"/><circle cx="880.7" cy="484.1" r="5.0"/><circle cx="868.2" cy="512.0" r="5.0"/><circle cx="861.4" cy="504.4" r="5.0"/><circle cx="873.4" cy="473.3" r="5.0"/><circle cx="872.0" cy="476.4" r="5.0"/><circle cx="863.1" cy="497.5" r="5.0"/><circle cx="873.6" cy="487.7" r="5.0"/><circle cx="878.6" cy="499.0" r="5.0"/><circle cx="861.8" cy="489.3" r="5.0"/><circle cx="872.6" cy="480.2" r="5.0"/><circle cx="877.4" cy="478.1" r="5.0"/><circle cx="868.3" cy="495.4" r="5.0"/><circle cx="878.5" cy="515.4" r="5.0"/><circle cx="869.7" cy="493.4" r="5.0"/><circle cx="871.8" cy="506.3" r="5.0"/><circle cx="863.4" cy="494.7" r="5.0"/><circle cx="876.1" cy="483.4" r="5.0"/><circle cx="861.8" cy="514.0" r="5.0"/><circle cx="880.0" cy="492.7" r="5.0"/><circle cx="862.2" cy="489.8" r="5.0"/><circle cx="862.4" cy="528.5" r="5.0"/><circle cx="861.3" cy="482.6" r="5.0"/><circle cx="864.3" cy="499.2" r="5.0"/><circle cx="864.5" cy="515.0" r="5.0"/><circle cx="871.1" cy="486.0" r="5.0"/><circle cx="863.2" cy="479.5" r="5.0"/><circle cx="866.7" cy="513.4" r="5.0"/><circle cx="875.7" cy="482.6" r="5.0"/><circle cx="872.1" cy="511.7" r="5.0"/><circle cx="865.0" cy="528.2" r="5.0"/><circle cx="862.8" cy="518.3" r="5.0"/><circle cx="868.8" cy="479.9" r="5.0"/><circle cx="866.6" cy="494.9" r="5.0"/><circle cx="882.2" cy="484.8" r="5.0"/><circle cx="864.5" cy="513.6" r="5.0"/><circle cx="868.9" cy="475.8" r="5.0"/><circle cx="870.9" cy="518.9" r="5.0"/><circle cx="860.3" cy="514.9" r="5.0"/><circle cx="875.8" cy="524.2" r="5.0"/><circle cx="882.1" cy="518.7" r="5.0"/><circle cx="866.9" cy="487.9" r="5.0"/><circle cx="869.7" cy="487.0" r="5.0"/><circle cx="869.8" cy="470.5" r="5.0"/><circle cx="865.9" cy="524.8" r="5.0"/><circle cx="870.7" cy="506.2" r="5.0"/><circle cx="883.1" cy="514.4" r="5.0"/><circle cx="866.4" cy="525.5" r="5.0"/><circle cx="878.9" cy="514.3" r="5.0"/><circle cx="877.1" cy="488.9" r="5.0"/><circle cx="874.0" cy="485.9" r="5.0"/><circle cx="881.3" cy="486.5" r="5.0"/><circle cx="881.9" cy="520.7" r="5.0"/><circle cx="884.4" cy="513.6" r="5.0"/><circle cx="877.6" cy="507.4" r="5.0"/><circle cx="861.2" cy="522.2" r="5.0"/><circle cx="874.2" cy="494.0" r="5.0"/><circle cx="868.8" cy="516.2" r="5.0"/><circle cx="880.3" cy="522.1" r="5.0"/><circle cx="865.6" cy="486.1" r="5.0"/><circle cx="866.5" cy="469.8" r="5.0"/><circle cx="872.0" cy="490.3" r="5.0"/><circle cx="868.1" cy="506.0" r="5.0"/><circle cx="883.4" cy="512.9" r="5.0"/><circle cx="868.1" cy="522.4" r="5.0"/><circle cx="874.9" cy="470.2" r="5.0"/><circle cx="875.3" cy="519.4" r="5.0"/><circle cx="873.5" cy="495.9" r="5.0"/><circle cx="870.8" cy="522.9" r="5.0"/><circle cx="877.3" cy="477.1" r="5.0"/><circle cx="869.4" cy="487.7" r="5.0"/><circle cx="863.2" cy="525.2" r="5.0"/><circle cx="860.9" cy="503.2" r="5.0"/><circle cx="871.2" cy="511.8" r="5.0"/><circle cx="871.2" cy="469.3" r="5.0"/><circle cx="873.6" cy="518.8" r="5.0"/><circle cx="880.5" cy="487.2" r="5.0"/><circle cx="865.8" cy="513.6" r="5.0"/><circle cx="871.3" cy="488.9" r="5.0"/><circle cx="865.2" cy="483.5" r="5.0"/><circle cx="868.6" cy="512.8" r="5.0"/><circle cx="860.0" cy="470.0" r="5.0"/><circle cx="866.0" cy="468.0" r="5.0"/><circle cx="872.0" cy="463.0" r="5.0"/><circle cx="876.0" cy="470.0" r="5.0"/><circle cx="880.0" cy="480.0" r="5.0"/><circle cx="883.0" cy="485.0" r="5.0"/><circle cx="882.0" cy="500.0" r="5.0"/><circle cx="884.0" cy="510.0" r="5.0"/><circle cx="886.0" cy="515.0" r="5.0"/><circle cx="882.0" cy="523.0" r="5.0"/><circle cx="872.0" cy="527.0" r="5.0"/><circle cx="862.0" cy="531.0" r="5.0"/><circle cx="860.0" cy="520.0" r="5.0"/><circle cx="860.0" cy="500.0" r="5.0"/><circle cx="860.0" cy="485.0" r="5.0"/><circle cx="880.7" cy="444.7" r="5.0"/><circle cx="880.3" cy="540.6" r="5.0"/></g>
<g fill="#17becf"><circle cx="903.9" cy="508.8" r="5.0"/><circle cx="912.0" cy="517.5" r="5.0"/><circle cx="902.7" cy="537.9" r="5.0"/><circle cx="919.7" cy="483.0" r="5.0"/><circle cx="922.7" cy="509.1" r="5.0"/><circle cx="918.7" cy="531.7" r="5.0"/><circle cx="908.4" cy="535.6" r="5.0"/><circle cx="904.4" cy="471.7" r="5.0"/><circle cx="912.1" cy="533.8" r="5.0"/><circle cx="922.4" cy="537.8" r="5.0"/><circle cx="912.3" cy="536.2" r="5.0"/><circle cx="913.6" cy="480.2" r="5.0"/><circle cx="915.4" cy="527.0" r="5.0"/><circle cx="910.0" cy="512.7" r="5.0"/><circle cx="905.7" cy="489.6" r="5.0"/><circle cx="909.9" cy="506.4" r="5.0"/><circle cx="911.2" cy="476.6" r="5.0"/><circle cx="899.1" cy="494.2" r="5.0"/><circle cx="917.6" cy="523.1" r="5.0"/><circle cx="905.2" cy="488.1" r="5.0"/><circle cx="912.4" cy="482.5" r="5.0"/><circle cx="914.7" cy="534.2" r="5.0"/><circle cx="904.3" cy="511.6" r="5.0"/><circle cx="917.7" cy="523.2" r="5.0"/><circle cx="917.5" cy="520.5" r="5.0"/><circle cx="906.1" cy="529.5" r="5.0"/><circle cx="923.5" cy="501.4" r="5.0"/><circle cx="901.2" cy="474.9" r="5.0"/><circle cx="919.7" cy="518.1" r="5.0"/><circle cx="902.7" cy="502.7" r="5.0"/><circle cx="907.7" cy="524.4" r="5.0"/><circle cx="905.4" cy="484.1" r="5.0"/><circle cx="903.2" cy="499.1" r="5.0"/><circle cx="915.1" cy="491.5" r="5.0"/><circle cx="903.2" cy="485.5" r="5.0"/><circle cx="901.2" cy="483.7" r="5.0"/><circle cx="907.2" cy="505.8" r="5.0"/><circle cx="903.8" cy="504.1" r="5.0"/><circle cx="911.3" cy="484.1" r="5.0"/><circle cx="914.4" cy="480.3" r="5.0"/><circle cx="903.4" cy="475.2" r="5.0"/><circle cx="917.2" cy="538.7" r="5.0"/><circle cx="909.5" cy="495.1" r="5.0"/><circle cx="910.1" cy="495.0" r="5.0"/><circle cx="917.0" cy="497.8" r="5.0"/><circle cx="903.0" cy="531.4" r="5.0"/><circle cx="921.1" cy="521.7" r="5.0"/><circle cx="908.2" cy="514.7" r="5.0"/><circle cx="922.9" cy="498.5" r="5.0"/><circle cx="910.2" cy="491.2" r="5.0"/><circle cx="913.4" cy="517.1" r="5.0"/><circle cx="918.1" cy="537.4" r="5.0"/><circle cx="902.8" cy="496.0" r="5.0"/><circle cx="921.1" cy="526.2" r="5.0"/><circle cx="914.3" cy="518.1" r="5.0"/><circle cx="913.3" cy="498.6" r="5.0"/><circle cx="903.7" cy="478.2" r="5.0"/><circle cx="922.3" cy="526.8" r="5.0"/><circle cx="899.7" cy="492.9" r="5.0"/><circle cx="911.5" cy="505.2" r="5.0"/><circle cx="908.4" cy="533.6" r="5.0"/><circle cx="908.1" cy="507.8" r="5.0"/><circle cx="923.2" cy="515.4" r="5.0"/><circle cx="911.4" cy="493.6" r="5.0"/><circle cx="909.1" cy="513.2" r="5.0"/><circle cx="901.0" cy="472.0" r="5.0"/><circle cx="906.0" cy="470.0" r="5.0"/><circle cx="911.0" cy="470.0" r="5.0"/><circle cx="921.0" cy="475.0" r="5.0"/><circle cx="924.0" cy="490.0" r="5.0"/><circle cx="924.0" cy="512.0" r="5.0"/><circle cx="925.0" cy="525.0" r="5.0"/><circle cx="925.0" cy="538.0" r="5.0"/><circle cx="920.0" cy="541.0" r="5.0"/><circle cx="911.0" cy="536.0" r="5.0"/><circle cx="900.0" cy="539.0" r="5.0"/><circle cx="899.0" cy="525.0" r="5.0"/><circle cx="900.0" cy="510.0" r="5.0"/><circle cx="899.0" cy="495.0" r="5.0"/><circle cx="900.0" cy="480.0" r="5.0"/><circle cx="924.4" cy="431.0" r="5.0"/><circle cx="912.0" cy="436.9" r="5.0"/><circle cx="919.8" cy="443.3" r="5.0"/><circle cx="900.7" cy="454.6" r="5.0"/><circle cx="907.1" cy="455.3" r="5.0"/><circle cx="922.6" cy="457.4" r="5.0"/><circle cx="921.2" cy="460.9" r="5.0"/><circle cx="905.7" cy="462.3" r="5.0"/><circle cx="911.3" cy="469.4" r="5.0"/><circle cx="902.6" cy="545.4" r="5.0"/><circle cx="905.5" cy="552.4" r="5.0"/><circle cx="911.8" cy="551.0" r="5.0"/><circle cx="906.2" cy="558.8" r="5.0"/><circle cx="904.7" cy="569.4" r="5.0"/><circle cx="903.1" cy="582.1" r="5.0"/><circle cx="920.0" cy="596.9" r="5.0"/></g>
<g fill="#1f77b4"><circle cx="956.3" cy="483.4" r="5.0"/><circle cx="947.2" cy="493.8" r="5.0"/><circle cx="947.0" cy="536.9" r="5.0"/><circle cx="950.9" cy="484.6" r="5.0"/><circle cx="946.3" cy="529.4" r="5.0"/><circle cx="942.5" cy="518.6" r="5.0"/><circle cx="940.3" cy="528.1" r="5.0"/><circle cx="942.2" cy="480.7" r="5.0"/><circle cx="955.1" cy="521.1" r="5.0"/><circle cx="959.0" cy="539.6" r="5.0"/><circle cx="951.1" cy="537.6" r="5.0"/><circle cx="941.0" cy="537.9" r="5.0"/><circle cx="948.5" cy="477.8" r="5.0"/><circle cx="955.5" cy="532.4" r="5.0"/><circle cx="947.5" cy="469.6" r="5.0"/><circle cx="958.2" cy="523.8" r="5.0"/><circle cx="952.1" cy="542.1" r="5.0"/><circle cx="954.6" cy="513.7" r="5.0"/><circle cx="941.5" cy="475.3" r="5.0"/><circle cx="943.0" cy="512.0" r="5.0"/><circle cx="953.8" cy="541.5" r="5.0"/><circle cx="946.9" cy="542.3" r="5.0"/><circle cx="948.6" cy="494.1" r="5.0"/><circle cx="944.6" cy="481.1" r="5.0"/><circle cx="954.5" cy="476.4" r="5.0"/><circle cx="943.0" cy="474.5" r="5.0"/><circle cx="946.7" cy="522.4" r="5.0"/><circle cx="954.0" cy="464.8" r="5.0"/><circle cx="948.7" cy="526.9" r="5.0"/><circle cx="951.7" cy="499.0" r="5.0"/><circle cx="958.4" cy="511.3" r="5.0"/><circle cx="946.4" cy="494.5" r="5.0"/><circle cx="942.1" cy="476.4" r="5.0"/><circle cx="947.4" cy="518.6" r="5.0"/><circle cx="956.3" cy="504.2" r="5.0"/><circle cx="948.1" cy="516.9" r="5.0"/><circle cx="951.5" cy="521.7" r="5.0"/><circle cx="948.0" cy="540.7" r="5.0"/><circle cx="952.5" cy="487.9" r="5.0"/><circle cx="947.3" cy="484.1" r="5.0"/><circle cx="956.3" cy="529.3" r="5.0"/><circle cx="946.0" cy="524.1" r="5.0"/><circle cx="944.8" cy="512.1" r="5.0"/><circle cx="942.5" cy="532.3" r="5.0"/><circle cx="949.8" cy="484.6" r="5.0"/><circle cx="959.3" cy="468.8" r="5.0"/><circle cx="942.3" cy="524.4" r="5.0"/><circle cx="951.6" cy="536.4" r="5.0"/><circle cx="951.9" cy="497.0" r="5.0"/><circle cx="959.5" cy="469.2" r="5.0"/><circle cx="956.1" cy="470.4" r="5.0"/><circle cx="945.1" cy="471.3" r="5.0"/><circle cx="958.2" cy="498.2" r="5.0"/><circle cx="940.0" cy="465.0" r="5.0"/><circle cx="951.0" cy="462.0" r="5.0"/><circle cx="961.0" cy="468.0" r="5.0"/><circle cx="958.0" cy="480.0" r="5.0"/><circle cx="961.0" cy="493.0" r="5.0"/><circle cx="958.0" cy="505.0" r="5.0"/><circle cx="961.0" cy="517.0" r="5.0"/><circle cx="958.0" cy="530.0" r="5.0"/><circle cx="960.0" cy="541.0" r="5.0"/><circle cx="955.0" cy="544.0" r="5.0"/><circle cx="945.0" cy="544.0" r="5.0"/><circle cx="939.0" cy="543.0" r="5.0"/><circle cx="940.0" cy="530.0" r="5.0"/><circle cx="940.0" cy="515.0" r="5.0"/><circle cx="941.0" cy="500.0" r="5.0"/><circle cx="942.0" cy="485.0" r="5.0"/><circle cx="963.6" cy="351.1" r="5.0"/><circle cx="951.0" cy="368.8" r="5.0"/><circle cx="945.0" cy="413.1" r="5.0"/><circle cx="963.2" cy="412.0" r="5.0"/><circle cx="961.0" cy="422.0" r="5.0"/><circle cx="942.2" cy="425.3" r="5.0"/><circle cx="938.8" cy="428.6" r="5.0"/><circle cx="941.0" cy="437.5" r="5.0"/><circle cx="949.9" cy="440.8" r="5.0"/><circle cx="958.8" cy="441.9" r="5.0"/><circle cx="955.4" cy="447.4" r="5.0"/><circle cx="946.0" cy="549.0" r="5.0"/><circle cx="955.0" cy="549.0" r="5.0"/><circle cx="938.6" cy="553.9" r="5.0"/><circle cx="940.0" cy="563.7" r="5.0"/><circle cx="942.8" cy="570.8" r="5.0"/><circle cx="951.3" cy="571.5" r="5.0"/><circle cx="959.8" cy="572.2" r="5.0"/><circle cx="959.8" cy="564.4" r="5.0"/><circle cx="964.7" cy="558.1" r="5.0"/><circle cx="949.9" cy="583.5" r="5.0"/><circle cx="943.5" cy="587.7" r="5.0"/><circle cx="943.5" cy="604.6" r="5.0"/><circle cx="944.9" cy="609.6" r="5.0"/><circle cx="942.8" cy="623.0" r="5.0"/><circle cx="959.8" cy="643.4" r="5.0"/></g>
<polyline points="235.9,441.9 431.8,195.9 540.4,677.1 643.4,361.4 964.8,548.1" fill="none" stroke="#000" stroke-width="5.5" stroke-linejoin="round"/>
<circle cx="235.9" cy="441.9" r="6.9" fill="#000"/>
<circle cx="643.4" cy="361.4" r="6.9" fill="#000"/>
<circle cx="964.8" cy="548.1" r="6.9" fill="#000"/>
<rect x="183" y="100" width="302" height="776" fill="#c0c0c0" fill-opacity="0.3"/>
<rect x="777.7" y="100" width="245.3" height="776" fill="#c0c0c0" fill-opacity="0.3"/>
<g style="font-family:'Liberation Sans',Arial,sans-serif;font-size:27.6px" fill="#5ad61e">
<text x="453.5" y="178.1">Lowest</text>
<text x="453.5" y="205.8">Curvature</text>
<text x="453.5" y="233.4">Point</text>
</g>
<g style="font-family:'Liberation Sans',Arial,sans-serif;font-size:27.6px" fill="#dc143c">
<text x="581.8" y="666.9">Highest</text>
<text x="581.8" y="694.5">Curvature</text>
<text x="581.8" y="722.1">Point</text>
</g>
<line x1="542.2" y1="876" x2="542.2" y2="100" stroke="#000080" stroke-width="7.8" stroke-dasharray="23.7 23.7"/>
<clipPath id="wc"><rect x="485" y="100" width="292.7" height="776"/></clipPath>
<g clip-path="url(#wc)"><polyline points="235.9,441.9 431.8,195.9 540.4,677.1 643.4,361.4 964.8,548.1" fill="none" stroke="#000" stroke-width="5.5" stroke-linejoin="round"/><circle cx="643.4" cy="361.4" r="6.9" fill="#000"/></g>
<text x="254.2" y="798.8" fill="#666666" style="font-family:'DejaVu Sans',sans-serif;font-size:40px">ρ<tspan dx="-0.8" dy="7" style="font-size:27.5px">pol</tspan><tspan dx="9.5" dy="-7">&lt;</tspan><tspan dx="7.0">0.99</tspan></text>
<text x="564.7" y="797.6" fill="#000080" style="font-family:'DejaVu Sans',sans-serif;font-size:40px">ρ<tspan dx="-0.8" dy="7" style="font-size:27.5px">pol</tspan><tspan dx="9.4" dy="-7">=</tspan><tspan dx="7.5">1</tspan></text>
<text x="792.6" y="798.8" fill="#666666" style="font-family:'DejaVu Sans',sans-serif;font-size:40px">ρ<tspan dx="-0.8" dy="7" style="font-size:27.5px">pol</tspan><tspan dx="9.0" dy="-7">&gt;</tspan><tspan dx="7.5">1.04</tspan></text>
<polygon points="431.8,179.0 442.0,195.9 431.8,212.8 421.6,195.9" fill="#008000"/>
<polygon points="540.4,660.2 550.6,677.1 540.4,694.0 530.2,677.1" fill="#ff0000"/>
<path d="M254.7,876 V860 M254.7,100 V116 M434.1,876 V860 M434.1,100 V116 M613.5,876 V860 M613.5,100 V116 M792.9,876 V860 M792.9,100 V116 M972.3,876 V860 M972.3,100 V116 M183,171.9 H199 M1023,171.9 H1007 M183,297.6 H199 M1023,297.6 H1007 M183,423.3 H199 M1023,423.3 H1007 M183,549.0 H199 M1023,549.0 H1007 M183,674.7 H199 M1023,674.7 H1007 M183,800.5 H199 M1023,800.5 H1007" stroke="#000" stroke-width="2.4" fill="none"/>
<rect x="183" y="100" width="840" height="776" fill="none" stroke="#000" stroke-width="4"/>
<g style="font-family:'DejaVu Sans',sans-serif;font-size:40px" fill="#000">
<text x="254.7" y="922.2" text-anchor="middle">2.10</text>
<text x="434.1" y="922.2" text-anchor="middle">2.12</text>
<text x="613.5" y="922.2" text-anchor="middle">2.14</text>
<text x="792.9" y="922.2" text-anchor="middle">2.16</text>
<text x="972.3" y="922.2" text-anchor="middle">2.18</text>
<text x="166.5" y="182.9" text-anchor="end">1.0</text>
<text x="166.5" y="308.6" text-anchor="end">0.5</text>
<text x="166.5" y="434.3" text-anchor="end">0.0</text>
<text x="166.5" y="560.4" text-anchor="end">−<tspan dx="-1.3">0.5</tspan></text>
<text x="166.5" y="686.1" text-anchor="end">−<tspan dx="-1.3">1.0</tspan></text>
<text x="166.5" y="811.9" text-anchor="end">−<tspan dx="-1.3">1.5</tspan></text>
<text x="181.6" y="88">1e4</text>
<text x="461.4" y="29.3" style="font-size:39.6px">AUG # 36300</text>
<text x="429.8" y="73.6" style="font-size:39.6px">t = 2.700-3.100 s</text>
<text x="511.6" y="979.8">R<tspan dy="6.1" style="font-size:28px">major</tspan><tspan dx="1.5" dy="-6.1">(m)</tspan></text>
<g transform="translate(35.7,649) rotate(-90)"><text x="0" y="0"><tspan dy="2.3">−</tspan><tspan dx="-2.3" dy="-2.3" style="font-style:italic">∂</tspan><tspan dy="-14.6" style="font-size:28px">2</tspan><tspan dx="-17.8" dy="25.1" style="font-size:28px">R</tspan><tspan dx="2.3" dy="-10.5">log[T</tspan><tspan dy="6" style="font-size:28px">e</tspan><tspan dy="-6">] (m</tspan><tspan dy="-15" style="font-size:28px">-2</tspan><tspan dy="15">)</tspan></text></g>
</g>
</svg>
</body></html>
